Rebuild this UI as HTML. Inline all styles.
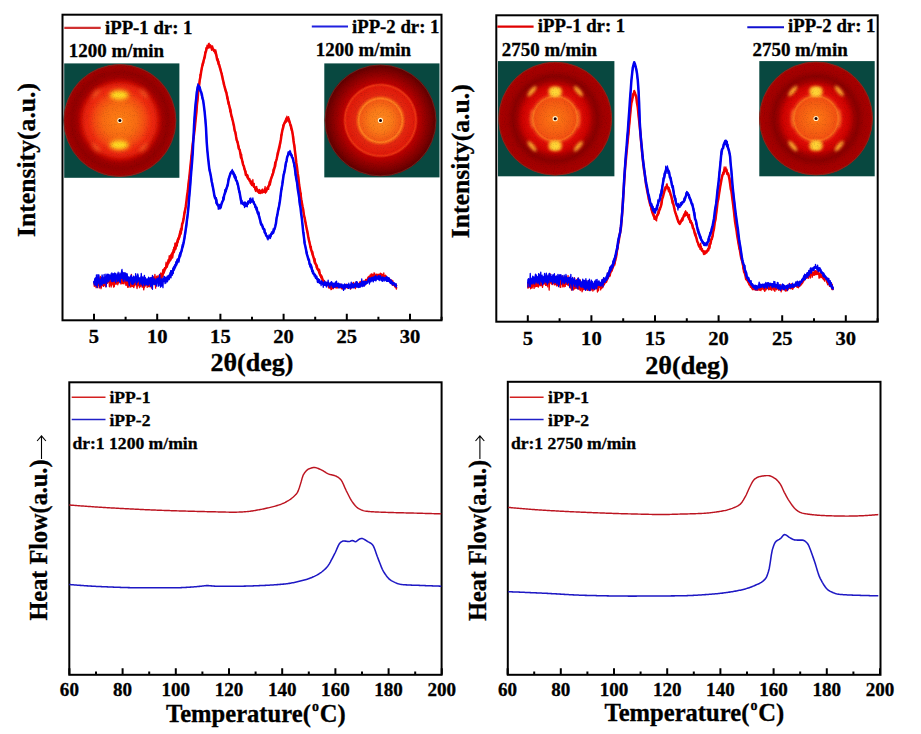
<!DOCTYPE html>
<html><head><meta charset="utf-8"><style>
html,body{margin:0;padding:0;background:#fff;}
body{width:921px;height:734px;overflow:hidden;}
svg{display:block;font-family:"Liberation Serif", serif;font-weight:bold;} text{stroke:#000;stroke-width:0.3px;}
</style></head><body>
<svg width="921" height="734" viewBox="0 0 921 734">
<defs>
<radialGradient id="rg_a" cx="0.5" cy="0.5" r="0.5">
 <stop offset="0" stop-color="#ff8214"/><stop offset="0.3" stop-color="#f86a12"/><stop offset="0.45" stop-color="#f44a12"/><stop offset="0.53" stop-color="#f03010"/>
 <stop offset="0.6" stop-color="#e41408"/><stop offset="0.68" stop-color="#c80600"/><stop offset="0.76" stop-color="#a00000"/><stop offset="0.85" stop-color="#920000"/>
 <stop offset="0.95" stop-color="#a00000"/><stop offset="1" stop-color="#900a06"/>
</radialGradient>
<radialGradient id="rg_b" cx="0.5" cy="0.5" r="0.5">
 <stop offset="0" stop-color="#ff8a20"/><stop offset="0.2" stop-color="#fa7a18"/><stop offset="0.36" stop-color="#f45a14"/><stop offset="0.39" stop-color="#ff8020"/><stop offset="0.42" stop-color="#f04e12"/>
 <stop offset="0.45" stop-color="#e42810"/><stop offset="0.6" stop-color="#e01a0a"/><stop offset="0.635" stop-color="#ec3412"/><stop offset="0.67" stop-color="#bc0000"/>
 <stop offset="0.8" stop-color="#960000"/><stop offset="0.9" stop-color="#7a0000"/><stop offset="1" stop-color="#5a0000"/>
</radialGradient>
<radialGradient id="rg_c" cx="0.5" cy="0.5" r="0.5">
 <stop offset="0" stop-color="#ff7a14"/><stop offset="0.3" stop-color="#f45a12"/><stop offset="0.36" stop-color="#f45012"/><stop offset="0.39" stop-color="#f86a1a"/><stop offset="0.42" stop-color="#ea3010"/>
 <stop offset="0.46" stop-color="#e00c06"/><stop offset="0.58" stop-color="#cc0200"/><stop offset="0.67" stop-color="#9c0000"/><stop offset="0.74" stop-color="#8a0000"/>
 <stop offset="0.84" stop-color="#a00000"/><stop offset="0.95" stop-color="#a80000"/><stop offset="1" stop-color="#a00a00"/>
</radialGradient>
<radialGradient id="rg_d" cx="0.5" cy="0.5" r="0.5">
 <stop offset="0" stop-color="#ff7a14"/><stop offset="0.3" stop-color="#f45a12"/><stop offset="0.36" stop-color="#f45012"/><stop offset="0.39" stop-color="#f86a1a"/><stop offset="0.42" stop-color="#ea3010"/>
 <stop offset="0.46" stop-color="#e00c06"/><stop offset="0.58" stop-color="#cc0200"/><stop offset="0.67" stop-color="#9c0000"/><stop offset="0.74" stop-color="#8a0000"/>
 <stop offset="0.84" stop-color="#a00000"/><stop offset="0.95" stop-color="#a80000"/><stop offset="1" stop-color="#a00a00"/>
</radialGradient>
<filter id="speckle" x="0" y="0" width="100%" height="100%"><feTurbulence type="fractalNoise" baseFrequency="0.9" numOctaves="2" seed="7"/><feColorMatrix type="matrix" values="0 0 0 0 0  0 0 0 0 0  0 0 0 0 0  0 0 0 -2.2 1.1"/></filter>
<filter id="blur1" x="-50%" y="-50%" width="200%" height="200%"><feGaussianBlur stdDeviation="1.5"/></filter>
<filter id="blur2" x="-50%" y="-50%" width="200%" height="200%"><feGaussianBlur stdDeviation="2.2"/></filter>
<clipPath id="clip1"><circle cx="119.9" cy="120.5" r="56.5"/></clipPath><clipPath id="clip2"><circle cx="380.5" cy="120.4" r="56.0"/></clipPath><clipPath id="clip3"><circle cx="555.2" cy="118.7" r="57"/></clipPath><clipPath id="clip4"><circle cx="816.0" cy="118.5" r="57"/></clipPath>
</defs>
<g id="tl">
<rect x="64.2" y="63.4" width="115.2" height="114.4" fill="#084840"/>
<g clip-path="url(#clip1)">
<circle cx="119.9" cy="120.5" r="56.5" fill="url(#rg_a)"/>
<g filter="url(#blur2)">
<circle cx="119.9" cy="120.5" r="35" fill="none" stroke="#ff5a20" stroke-width="3" opacity="0.5"/>
<ellipse cx="95.9" cy="93.5" rx="6" ry="2.2" transform="rotate(-50 95.9 93.5)" fill="#ff8030" opacity="0.6"/>
<ellipse cx="95.9" cy="147.5" rx="6" ry="2.2" transform="rotate(50 95.9 147.5)" fill="#ff8030" opacity="0.6"/>
<ellipse cx="143.9" cy="93.5" rx="6" ry="2.2" transform="rotate(50 143.9 93.5)" fill="#ff8030" opacity="0.6"/>
<ellipse cx="143.9" cy="147.5" rx="6" ry="2.2" transform="rotate(-50 143.9 147.5)" fill="#ff8030" opacity="0.6"/>
<ellipse cx="119.2" cy="95.0" rx="9.5" ry="4.5" fill="#ffe020"/>
<ellipse cx="119.2" cy="145.0" rx="9.5" ry="4.5" fill="#ffe020"/>
</g>
<rect x="63.400000000000006" y="64.0" width="113.0" height="113.0" filter="url(#speckle)" opacity="0.14"/>
</g>
<circle cx="119.9" cy="120.5" r="56.0" fill="none" stroke="#7a3a30" stroke-width="1" opacity="0.6"/>
<circle cx="119.9" cy="120.5" r="2.6" fill="#fff6d0"/>
<circle cx="119.9" cy="120.5" r="1.5" fill="#200000"/>
<rect x="324.3" y="63.4" width="115.2" height="114.0" fill="#084840"/>
<g clip-path="url(#clip2)">
<circle cx="380.5" cy="120.4" r="56.0" fill="url(#rg_b)"/>
<rect x="324.5" y="64.4" width="112.0" height="112.0" filter="url(#speckle)" opacity="0.14"/>
</g>
<circle cx="380.5" cy="120.4" r="55.5" fill="none" stroke="#7a3a30" stroke-width="1" opacity="0.6"/>
<circle cx="380.5" cy="120.4" r="2.6" fill="#fff6d0"/>
<circle cx="380.5" cy="120.4" r="1.5" fill="#200000"/>
<rect x="62.5" y="14.7" width="379.0" height="305.6" fill="none" stroke="#000" stroke-width="2"/>
<path d="M94.00,320.3 V313.8 M125.60,320.3 V316.8 M157.20,320.3 V313.8 M188.80,320.3 V316.8 M220.40,320.3 V313.8 M252.00,320.3 V316.8 M283.60,320.3 V313.8 M315.20,320.3 V316.8 M346.80,320.3 V313.8 M378.40,320.3 V316.8 M410.00,320.3 V313.8 M441.60,320.3 V316.8" stroke="#000" stroke-width="2" fill="none"/>
<text x="94.00" y="343.0" font-size="19.6" text-anchor="middle"  transform="matrix(1.05,0,0,1,-4.700,0)">5</text>
<text x="157.20" y="343.0" font-size="19.6" text-anchor="middle"  transform="matrix(1.05,0,0,1,-7.860,0)">10</text>
<text x="220.40" y="343.0" font-size="19.6" text-anchor="middle"  transform="matrix(1.05,0,0,1,-11.020,0)">15</text>
<text x="283.60" y="343.0" font-size="19.6" text-anchor="middle"  transform="matrix(1.05,0,0,1,-14.180,0)">20</text>
<text x="346.80" y="343.0" font-size="19.6" text-anchor="middle"  transform="matrix(1.05,0,0,1,-17.340,0)">25</text>
<text x="410.00" y="343.0" font-size="19.6" text-anchor="middle"  transform="matrix(1.05,0,0,1,-20.500,0)">30</text>
</g>
<g id="tr">
<rect x="498.0" y="61.1" width="116.4" height="115.2" fill="#084840"/>
<g clip-path="url(#clip3)">
<circle cx="555.2" cy="118.7" r="57" fill="url(#rg_c)"/>
<g filter="url(#blur1)">
<path d="M532.7,109.7 Q529.7,118.7 532.7,127.7 M577.7,109.7 Q580.7,118.7 577.7,127.7" fill="none" stroke="#ff9a30" stroke-width="2" opacity="0.7"/>
<ellipse cx="555.2" cy="91.7" rx="7" ry="5.5" fill="#ffa020"/>
<ellipse cx="555.2" cy="88.5" rx="6" ry="1.1" fill="#fff040"/>
<ellipse cx="555.2" cy="91.7" rx="6" ry="1.1" fill="#fff040"/>
<ellipse cx="555.2" cy="94.9" rx="6" ry="1.1" fill="#fff040"/>
<ellipse cx="555.2" cy="145.7" rx="7" ry="5.5" fill="#ffa020"/>
<ellipse cx="555.2" cy="142.5" rx="6" ry="1.1" fill="#fff040"/>
<ellipse cx="555.2" cy="145.7" rx="6" ry="1.1" fill="#fff040"/>
<ellipse cx="555.2" cy="148.89999999999998" rx="6" ry="1.1" fill="#fff040"/>
<ellipse cx="532.0" cy="91.2" rx="6.5" ry="2.2" transform="rotate(-50 532.0 91.2)" fill="#ffb030" opacity="0.95"/>
<ellipse cx="532.0" cy="146.2" rx="6.5" ry="2.2" transform="rotate(50 532.0 146.2)" fill="#ffb030" opacity="0.95"/>
<ellipse cx="578.4000000000001" cy="91.2" rx="6.5" ry="2.2" transform="rotate(50 578.4000000000001 91.2)" fill="#ffb030" opacity="0.95"/>
<ellipse cx="578.4000000000001" cy="146.2" rx="6.5" ry="2.2" transform="rotate(-50 578.4000000000001 146.2)" fill="#ffb030" opacity="0.95"/>
</g>
<rect x="498.20000000000005" y="61.7" width="114" height="114" filter="url(#speckle)" opacity="0.14"/>
</g>
<circle cx="555.2" cy="118.7" r="56.5" fill="none" stroke="#7a3a30" stroke-width="1" opacity="0.6"/>
<circle cx="555.2" cy="118.7" r="2.6" fill="#fff6d0"/>
<circle cx="555.2" cy="118.7" r="1.5" fill="#200000"/>
<rect x="759.3" y="61.1" width="115.4" height="115.2" fill="#084840"/>
<g clip-path="url(#clip4)">
<circle cx="816.0" cy="118.5" r="57" fill="url(#rg_d)"/>
<g filter="url(#blur1)">
<path d="M793.5,109.5 Q790.5,118.5 793.5,127.5 M838.5,109.5 Q841.5,118.5 838.5,127.5" fill="none" stroke="#ff9a30" stroke-width="2" opacity="0.7"/>
<ellipse cx="816.0" cy="91.5" rx="7" ry="5.5" fill="#ffa020"/>
<ellipse cx="816.0" cy="88.3" rx="6" ry="1.1" fill="#fff040"/>
<ellipse cx="816.0" cy="91.5" rx="6" ry="1.1" fill="#fff040"/>
<ellipse cx="816.0" cy="94.7" rx="6" ry="1.1" fill="#fff040"/>
<ellipse cx="816.0" cy="145.5" rx="7" ry="5.5" fill="#ffa020"/>
<ellipse cx="816.0" cy="142.3" rx="6" ry="1.1" fill="#fff040"/>
<ellipse cx="816.0" cy="145.5" rx="6" ry="1.1" fill="#fff040"/>
<ellipse cx="816.0" cy="148.7" rx="6" ry="1.1" fill="#fff040"/>
<ellipse cx="792.8" cy="91.0" rx="6.5" ry="2.2" transform="rotate(-50 792.8 91.0)" fill="#ffb030" opacity="0.95"/>
<ellipse cx="792.8" cy="146.0" rx="6.5" ry="2.2" transform="rotate(50 792.8 146.0)" fill="#ffb030" opacity="0.95"/>
<ellipse cx="839.2" cy="91.0" rx="6.5" ry="2.2" transform="rotate(50 839.2 91.0)" fill="#ffb030" opacity="0.95"/>
<ellipse cx="839.2" cy="146.0" rx="6.5" ry="2.2" transform="rotate(-50 839.2 146.0)" fill="#ffb030" opacity="0.95"/>
</g>
<rect x="759.0" y="61.5" width="114" height="114" filter="url(#speckle)" opacity="0.14"/>
</g>
<circle cx="816.0" cy="118.5" r="56.5" fill="none" stroke="#7a3a30" stroke-width="1" opacity="0.6"/>
<circle cx="816.0" cy="118.5" r="2.6" fill="#fff6d0"/>
<circle cx="816.0" cy="118.5" r="1.5" fill="#200000"/>
<rect x="496.3" y="15.3" width="381.40000000000003" height="306.4" fill="none" stroke="#000" stroke-width="2"/>
<path d="M527.80,321.7 V315.2 M559.60,321.7 V318.2 M591.40,321.7 V315.2 M623.20,321.7 V318.2 M655.00,321.7 V315.2 M686.80,321.7 V318.2 M718.60,321.7 V315.2 M750.40,321.7 V318.2 M782.20,321.7 V315.2 M814.00,321.7 V318.2 M845.80,321.7 V315.2 M877.60,321.7 V318.2" stroke="#000" stroke-width="2" fill="none"/>
<text x="527.80" y="344.8" font-size="19.6" text-anchor="middle"  transform="matrix(1.05,0,0,1,-26.390,0)">5</text>
<text x="591.40" y="344.8" font-size="19.6" text-anchor="middle"  transform="matrix(1.05,0,0,1,-29.570,0)">10</text>
<text x="655.00" y="344.8" font-size="19.6" text-anchor="middle"  transform="matrix(1.05,0,0,1,-32.750,0)">15</text>
<text x="718.60" y="344.8" font-size="19.6" text-anchor="middle"  transform="matrix(1.05,0,0,1,-35.930,0)">20</text>
<text x="782.20" y="344.8" font-size="19.6" text-anchor="middle"  transform="matrix(1.05,0,0,1,-39.110,0)">25</text>
<text x="845.80" y="344.8" font-size="19.6" text-anchor="middle"  transform="matrix(1.05,0,0,1,-42.290,0)">30</text>
</g>
<path d="M94.00,283.78 L94.70,283.30 L95.40,283.87 L96.10,283.21 L96.80,283.66 L97.50,285.14 L98.20,283.62 L98.90,283.73 L99.60,282.52 L100.30,282.31 L101.00,283.36 L101.70,281.99 L102.40,281.87 L103.10,282.66 L103.80,281.88 L104.50,282.49 L105.20,281.27 L105.90,282.37 L106.60,280.02 L107.30,280.83 L108.00,280.38 L108.70,281.32 L109.40,280.03 L110.10,281.69 L110.80,280.20 L111.50,281.47 L112.20,280.67 L112.90,281.33 L113.60,281.31 L114.30,280.00 L115.00,280.43 L115.70,280.78 L116.40,280.30 L117.10,281.03 L117.80,280.99 L118.50,279.84 L119.20,278.74 L119.90,279.98 L120.60,280.97 L121.30,279.85 L122.00,279.83 L122.70,280.00 L123.40,280.79 L124.10,281.52 L124.80,279.37 L125.50,281.39 L126.20,280.68 L126.90,280.21 L127.60,282.12 L128.30,281.42 L129.00,281.38 L129.70,281.89 L130.40,281.41 L131.10,282.68 L131.80,281.96 L132.50,283.97 L133.20,283.19 L133.90,282.69 L134.60,283.04 L135.30,282.60 L136.00,283.90 L136.70,284.09 L137.40,282.46 L138.10,283.98 L138.80,284.44 L139.50,284.64 L140.20,283.74 L140.90,283.57 L141.60,283.98 L142.30,284.48 L143.00,284.23 L143.70,284.03 L144.40,283.62 L145.10,283.14 L145.80,282.60 L146.50,283.84 L147.20,283.13 L147.90,283.54 L148.60,285.05 L149.30,282.16 L150.00,283.92 L150.70,282.24 L151.40,282.45 L152.10,281.96 L152.80,282.15 L153.50,282.16 L154.20,281.70 L154.90,282.37 L155.60,280.45 L156.30,281.12 L157.00,279.75 L157.70,279.01 L158.40,279.12 L159.10,277.56 L159.80,278.85 L160.50,278.30 L161.20,276.14 L161.90,274.33 L162.60,274.45 L163.30,272.73 L164.00,271.68 L164.70,269.12 L165.40,268.39 L166.10,267.19 L166.80,266.86 L167.50,263.43 L168.20,263.22 L168.90,260.89 L169.60,259.94 L170.30,259.55 L171.00,255.94 L171.70,254.44 L172.40,253.84 L173.10,252.15 L173.80,252.17 L174.50,248.47 L175.20,248.84 L175.90,245.71 L176.60,244.70 L177.30,241.90 L178.00,239.36 L178.70,238.32 L179.40,237.04 L180.10,233.76 L180.80,231.04 L181.50,229.61 L182.20,223.76 L182.90,222.29 L183.60,219.06 L184.30,214.18 L185.00,210.52 L185.70,207.02 L186.40,201.67 L187.10,195.51 L187.80,191.03 L188.50,183.77 L189.20,178.47 L189.90,171.71 L190.60,164.71 L191.30,158.21 L192.00,151.23 L192.70,144.10 L193.40,139.08 L194.10,133.83 L194.80,128.22 L195.50,120.48 L196.20,114.17 L196.90,105.08 L197.60,99.28 L198.30,90.10 L199.00,86.36 L199.70,80.34 L200.40,76.90 L201.10,72.09 L201.80,67.98 L202.50,65.23 L203.20,62.67 L203.90,59.55 L204.60,57.85 L205.30,53.37 L206.00,51.20 L206.70,48.44 L207.40,47.44 L208.10,46.93 L208.80,47.10 L209.50,46.17 L210.20,45.34 L210.90,46.45 L211.60,47.41 L212.30,48.06 L213.00,49.22 L213.70,50.19 L214.40,50.02 L215.10,51.26 L215.80,52.86 L216.50,56.31 L217.20,59.86 L217.90,61.05 L218.60,64.29 L219.30,64.95 L220.00,67.88 L220.70,70.71 L221.40,73.00 L222.10,76.08 L222.80,79.44 L223.50,82.01 L224.20,85.31 L224.90,87.84 L225.60,90.76 L226.30,92.59 L227.00,95.89 L227.70,98.94 L228.40,102.90 L229.10,104.86 L229.80,107.73 L230.50,110.62 L231.20,114.89 L231.90,117.18 L232.60,119.95 L233.30,122.99 L234.00,126.21 L234.70,130.74 L235.40,132.25 L236.10,136.67 L236.80,140.21 L237.50,141.68 L238.20,145.34 L238.90,148.78 L239.60,149.50 L240.30,152.97 L241.00,157.67 L241.70,158.57 L242.40,161.49 L243.10,164.72 L243.80,166.13 L244.50,168.98 L245.20,171.27 L245.90,175.05 L246.60,175.22 L247.30,175.22 L248.00,178.33 L248.70,178.65 L249.40,179.95 L250.10,180.92 L250.80,181.44 L251.50,183.48 L252.20,182.77 L252.90,184.91 L253.60,186.05 L254.30,187.03 L255.00,187.58 L255.70,189.21 L256.40,190.01 L257.10,190.26 L257.80,191.54 L258.50,190.80 L259.20,192.52 L259.90,192.71 L260.60,191.22 L261.30,191.90 L262.00,192.40 L262.70,190.51 L263.40,191.09 L264.10,191.41 L264.80,191.50 L265.50,191.85 L266.20,190.85 L266.90,188.80 L267.60,187.80 L268.30,186.52 L269.00,185.56 L269.70,183.67 L270.40,180.85 L271.10,178.51 L271.80,176.86 L272.50,174.87 L273.20,172.90 L273.90,169.05 L274.60,167.48 L275.30,163.03 L276.00,161.05 L276.70,158.75 L277.40,155.41 L278.10,152.02 L278.80,149.17 L279.50,146.12 L280.20,142.80 L280.90,139.28 L281.60,134.15 L282.30,130.64 L283.00,128.22 L283.70,125.16 L284.40,123.15 L285.10,121.76 L285.80,120.62 L286.50,118.39 L287.20,119.08 L287.90,117.92 L288.60,118.83 L289.30,121.05 L290.00,123.37 L290.70,125.12 L291.40,128.12 L292.10,130.89 L292.80,134.95 L293.50,140.94 L294.20,144.98 L294.90,150.67 L295.60,155.87 L296.30,162.68 L297.00,167.16 L297.70,173.19 L298.40,177.37 L299.10,184.53 L299.80,188.78 L300.50,193.77 L301.20,199.45 L301.90,202.92 L302.60,206.71 L303.30,210.04 L304.00,215.57 L304.70,218.11 L305.40,221.97 L306.10,225.85 L306.80,229.15 L307.50,232.13 L308.20,236.67 L308.90,239.93 L309.60,243.02 L310.30,246.08 L311.00,249.31 L311.70,251.46 L312.40,253.56 L313.10,256.00 L313.80,258.14 L314.50,260.88 L315.20,262.89 L315.90,264.59 L316.60,265.18 L317.30,268.54 L318.00,269.39 L318.70,270.60 L319.40,273.06 L320.10,274.77 L320.80,275.93 L321.50,276.89 L322.20,278.31 L322.90,280.41 L323.60,281.10 L324.30,281.77 L325.00,283.23 L325.70,283.95 L326.40,284.20 L327.10,284.10 L327.80,284.95 L328.50,284.99 L329.20,285.56 L329.90,286.85 L330.60,285.86 L331.30,286.11 L332.00,286.95 L332.70,286.98 L333.40,285.19 L334.10,285.07 L334.80,286.44 L335.50,287.13 L336.20,286.36 L336.90,287.38 L337.60,286.32 L338.30,287.04 L339.00,286.47 L339.70,286.39 L340.40,284.81 L341.10,286.42 L341.80,286.89 L342.50,287.54 L343.20,287.44 L343.90,286.54 L344.60,287.14 L345.30,286.97 L346.00,285.18 L346.70,286.60 L347.40,287.40 L348.10,287.74 L348.80,286.05 L349.50,286.21 L350.20,286.89 L350.90,287.12 L351.60,286.93 L352.30,287.00 L353.00,286.53 L353.70,285.80 L354.40,285.27 L355.10,285.08 L355.80,285.77 L356.50,284.79 L357.20,284.85 L357.90,284.14 L358.60,284.66 L359.30,283.97 L360.00,285.02 L360.70,283.04 L361.40,283.32 L362.10,283.65 L362.80,284.84 L363.50,282.12 L364.20,281.54 L364.90,281.88 L365.60,281.20 L366.30,280.48 L367.00,279.83 L367.70,279.93 L368.40,277.62 L369.10,277.25 L369.80,277.14 L370.50,277.41 L371.20,277.92 L371.90,276.55 L372.60,276.04 L373.30,277.38 L374.00,275.22 L374.70,275.63 L375.40,276.98 L376.10,275.68 L376.80,274.79 L377.50,275.93 L378.20,275.75 L378.90,276.78 L379.60,275.12 L380.30,275.76 L381.00,276.19 L381.70,274.66 L382.40,276.30 L383.10,276.01 L383.80,277.67 L384.50,276.39 L385.20,277.84 L385.90,278.60 L386.60,279.37 L387.30,279.85 L388.00,278.90 L388.70,280.36 L389.40,280.37 L390.10,280.77 L390.80,281.09 L391.50,281.66 L392.20,283.39 L392.90,283.33 L393.60,284.77 L394.30,284.33 L395.00,285.73 L395.70,284.88 L396.40,286.58" stroke="#f00000" stroke-width="2.5" fill="none" stroke-linejoin="round"/>
<path d="M94.00,281.66 L94.35,284.10 L94.70,282.59 L95.05,282.02 L95.40,280.52 L95.75,284.14 L96.10,279.98 L96.45,277.63 L96.80,285.38 L97.15,284.51 L97.50,280.78 L97.85,285.35 L98.20,282.06 L98.55,281.93 L98.90,281.29 L99.25,288.01 L99.60,286.06 L99.95,283.53 L100.30,285.63 L100.65,283.18 L101.00,288.67 L101.35,279.24 L101.70,284.02 L102.05,282.31 L102.40,281.78 L102.75,282.73 L103.10,284.00 L103.45,283.57 L103.80,285.61 L104.15,279.66 L104.50,282.87 L104.85,281.00 L105.20,279.32 L105.55,286.73 L105.90,278.57 L106.25,278.89 L106.60,280.85 L106.95,279.57 L107.30,282.62 L107.65,277.47 L108.00,277.50 L108.35,281.33 L108.70,281.00 L109.05,281.43 L109.40,286.81 L109.75,280.98 L110.10,276.06 L110.45,276.36 L110.80,277.71 L111.15,287.00 L111.50,284.24 L111.85,279.97 L112.20,281.49 L112.55,279.68 L112.90,284.86 L113.25,281.93 L113.60,283.25 L113.95,279.17 L114.30,276.33 L114.65,278.02 L115.00,274.16 L115.35,283.86 L115.70,279.82 L116.05,277.84 L116.40,282.75 L116.75,275.89 L117.10,278.95 L117.45,279.13 L117.80,284.82 L118.15,273.50 L118.50,283.15 L118.85,276.13 L119.20,276.85 L119.55,275.03 L119.90,274.55 L120.25,279.89 L120.60,280.11 L120.95,283.98 L121.30,275.26 L121.65,274.93 L122.00,276.71 L122.35,283.68 L122.70,282.70 L123.05,277.65 L123.40,281.39 L123.75,280.69 L124.10,283.83 L124.45,275.32 L124.80,277.40 L125.15,279.71 L125.50,276.37 L125.85,285.30 L126.20,283.18 L126.55,280.70 L126.90,285.05 L127.25,284.24 L127.60,285.21 L127.95,287.07 L128.30,280.09 L128.65,280.52 L129.00,278.28 L129.35,283.19 L129.70,282.91 L130.05,285.26 L130.40,284.88 L130.75,280.99 L131.10,283.42 L131.45,281.23 L131.80,286.10 L132.15,281.28 L132.50,281.50 L132.85,281.28 L133.20,281.67 L133.55,286.72 L133.90,282.76 L134.25,282.57 L134.60,282.71 L134.95,280.93 L135.30,281.57 L135.65,281.25 L136.00,278.16 L136.35,278.80 L136.70,280.75 L137.05,288.57 L137.40,282.12 L137.75,285.40 L138.10,284.64 L138.45,280.76 L138.80,283.38 L139.15,280.77 L139.50,287.65 L139.85,280.22 L140.20,281.58 L140.55,284.82 L140.90,285.29 L141.25,284.01 L141.60,283.81 L141.95,281.79 L142.30,287.15 L142.65,286.10 L143.00,277.52 L143.35,278.89 L143.70,279.15 L144.05,285.65 L144.40,284.48 L144.75,286.81 L145.10,285.50 L145.45,279.74 L145.80,284.41 L146.15,281.83 L146.50,280.77 L146.85,282.49 L147.20,287.40 L147.55,281.22 L147.90,284.40 L148.25,282.37 L148.60,280.53 L148.95,285.08 L149.30,282.97 L149.65,284.67 L150.00,282.02 L150.35,285.42 L150.70,278.88 L151.05,277.44 L151.40,288.07 L151.75,284.11 L152.10,280.33 L152.45,283.02 L152.80,276.61 L153.15,282.88 L153.50,277.26 L153.85,277.24 L154.20,280.16 L154.55,283.87 L154.90,284.64 L155.25,281.74 L155.60,288.10 L155.95,280.76 L156.30,276.33 L156.65,281.77 L157.00,281.15 L157.35,281.62 L157.70,280.41 L158.05,275.56 L158.40,279.95 L158.75,282.73 L159.10,283.18 L159.45,281.35 L159.80,279.37 L160.15,275.11 L160.50,275.66 L160.85,272.87 L161.20,277.74 L161.55,279.16 L161.90,274.31 L162.25,277.32 L162.60,273.90 L162.95,276.43 L163.30,269.34 L163.65,273.59 L164.00,271.06 L164.35,268.23 L164.70,270.47 L165.05,267.73 L165.40,268.13 L165.75,269.09 L166.10,262.11 L166.45,267.11 L166.80,264.43 L167.15,265.78 L167.50,263.64 L167.85,261.05 L168.20,262.78 L168.55,263.72 L168.90,258.75 L169.25,255.58 L169.60,259.51 L169.95,256.86 L170.30,260.42 L170.65,255.82 L171.00,259.92 L171.35,256.93 L171.70,254.16 L172.05,255.62 L172.40,252.56 L172.75,257.65 L173.10,251.27 L173.45,250.57 L173.80,248.89 L174.15,251.18 L174.50,250.79 L174.85,249.55 L175.20,245.97 L175.55,246.94 L175.90,249.08 L176.25,243.17 L176.60,244.43 L176.95,243.56 L177.30,242.51 L177.65,238.57 L178.00,238.18 L178.35,237.66 L178.70,236.16 L179.05,238.69 L179.40,236.71 L179.75,232.38 L180.10,231.09 L180.45,234.63 L180.80,234.51 L181.15,233.68 L181.50,227.43 L181.85,228.27 L182.20,227.79 L182.55,223.93 L182.90,223.21 L183.25,219.75 L183.60,218.08 L183.95,217.50 L184.30,211.85 L184.65,213.20 L185.00,211.62 L185.35,210.87 L185.70,204.97 L186.05,202.08 L186.40,204.33 L186.75,200.95 L187.10,197.80 L187.45,193.61 L187.80,191.96 L188.15,187.90 L188.50,184.12 L188.85,180.21 L189.20,177.55 L189.55,175.05 L189.90,172.23 L190.25,168.08 L190.60,164.33 L190.95,162.02 L191.30,155.58 L191.65,154.47 L192.00,150.57 L192.35,150.28 L192.70,141.89 L193.05,141.33 L193.40,138.34 L193.75,138.51 L194.10,134.01 L194.45,131.48 L194.80,126.63 L195.15,124.85 L195.50,121.80 L195.85,115.42 L196.20,115.91 L196.55,112.01 L196.90,107.26 L197.25,104.14 L197.60,98.88 L197.95,94.75 L198.30,91.24 L198.65,88.03 L199.00,83.98 L199.35,84.34 L199.70,80.32 L200.05,74.39 L200.40,75.98 L200.75,73.58 L201.10,71.43 L201.45,70.17 L201.80,69.19 L202.15,64.89 L202.50,62.67 L202.85,65.45 L203.20,60.87 L203.55,63.20 L203.90,57.16 L204.25,58.64 L204.60,54.22 L204.95,51.82 L205.30,54.32 L205.65,51.78 L206.00,47.76 L206.35,48.08 L206.70,47.91 L207.05,45.18 L207.40,47.35 L207.75,47.66 L208.10,46.99 L208.45,43.59 L208.80,48.17 L209.15,43.10 L209.50,47.61 L209.85,45.94 L210.20,46.33 L210.55,45.27 L210.90,48.00 L211.25,49.09 L211.60,50.30 L211.95,49.39 L212.30,45.85 L212.65,46.12 L213.00,47.82 L213.35,48.28 L213.70,51.49 L214.05,51.04 L214.40,52.13 L214.75,52.01 L215.10,53.71 L215.45,51.58 L215.80,49.82 L216.15,54.41 L216.50,54.28 L216.85,58.15 L217.20,57.65 L217.55,59.49 L217.90,61.16 L218.25,58.91 L218.60,63.93 L218.95,61.18 L219.30,67.06 L219.65,67.56 L220.00,68.39 L220.35,68.48 L220.70,68.73 L221.05,71.19 L221.40,72.22 L221.75,73.03 L222.10,73.57 L222.45,75.47 L222.80,79.40 L223.15,78.74 L223.50,84.65 L223.85,82.53 L224.20,84.31 L224.55,85.85 L224.90,87.59 L225.25,87.95 L225.60,88.89 L225.95,92.05 L226.30,90.68 L226.65,92.04 L227.00,98.77 L227.35,95.39 L227.70,97.04 L228.05,100.25 L228.40,104.74 L228.75,102.35 L229.10,102.04 L229.45,108.29 L229.80,111.57 L230.15,111.95 L230.50,108.91 L230.85,111.16 L231.20,115.96 L231.55,117.71 L231.90,119.32 L232.25,119.17 L232.60,121.00 L232.95,121.07 L233.30,124.26 L233.65,125.92 L234.00,127.59 L234.35,129.37 L234.70,130.04 L235.05,131.63 L235.40,133.97 L235.75,134.31 L236.10,135.58 L236.45,140.20 L236.80,142.06 L237.15,141.91 L237.50,141.17 L237.85,145.26 L238.20,145.69 L238.55,149.04 L238.90,145.90 L239.25,149.40 L239.60,149.54 L239.95,153.73 L240.30,153.93 L240.65,152.51 L241.00,156.09 L241.35,157.10 L241.70,154.41 L242.05,160.39 L242.40,161.64 L242.75,164.56 L243.10,161.85 L243.45,165.69 L243.80,166.31 L244.15,169.29 L244.50,168.61 L244.85,170.19 L245.20,170.00 L245.55,171.30 L245.90,170.93 L246.25,175.69 L246.60,173.58 L246.95,177.56 L247.30,174.86 L247.65,175.37 L248.00,179.20 L248.35,179.13 L248.70,179.43 L249.05,179.51 L249.40,181.27 L249.75,178.57 L250.10,182.91 L250.45,183.79 L250.80,180.65 L251.15,183.27 L251.50,185.52 L251.85,182.42 L252.20,184.11 L252.55,181.87 L252.90,179.52 L253.25,185.77 L253.60,186.62 L253.95,187.45 L254.30,183.40 L254.65,188.76 L255.00,189.85 L255.35,190.86 L255.70,191.54 L256.05,186.88 L256.40,188.04 L256.75,186.44 L257.10,190.52 L257.45,188.73 L257.80,190.17 L258.15,189.81 L258.50,193.05 L258.85,190.68 L259.20,191.37 L259.55,189.44 L259.90,192.96 L260.25,193.61 L260.60,190.28 L260.95,192.88 L261.30,190.10 L261.65,191.33 L262.00,189.69 L262.35,188.98 L262.70,191.64 L263.05,192.57 L263.40,190.55 L263.75,190.07 L264.10,192.51 L264.45,188.58 L264.80,188.00 L265.15,186.51 L265.50,193.16 L265.85,189.47 L266.20,190.95 L266.55,191.89 L266.90,188.68 L267.25,189.68 L267.60,188.87 L267.95,188.98 L268.30,189.13 L268.65,189.37 L269.00,183.64 L269.35,181.29 L269.70,181.80 L270.05,182.88 L270.40,184.90 L270.75,181.57 L271.10,179.29 L271.45,179.46 L271.80,176.62 L272.15,173.89 L272.50,175.88 L272.85,174.53 L273.20,169.63 L273.55,172.55 L273.90,169.98 L274.25,167.41 L274.60,170.09 L274.95,162.38 L275.30,165.56 L275.65,166.67 L276.00,161.69 L276.35,160.99 L276.70,159.69 L277.05,158.63 L277.40,152.57 L277.75,154.85 L278.10,151.86 L278.45,153.88 L278.80,148.37 L279.15,149.26 L279.50,149.67 L279.85,146.81 L280.20,144.65 L280.55,144.17 L280.90,134.98 L281.25,136.05 L281.60,135.32 L281.95,134.90 L282.30,130.81 L282.65,126.79 L283.00,124.79 L283.35,126.20 L283.70,123.99 L284.05,123.37 L284.40,123.46 L284.75,122.30 L285.10,123.40 L285.45,119.96 L285.80,119.94 L286.15,118.78 L286.50,122.09 L286.85,116.27 L287.20,118.11 L287.55,120.99 L287.90,118.45 L288.25,120.50 L288.60,116.58 L288.95,122.05 L289.30,119.53 L289.65,121.74 L290.00,125.32 L290.35,125.39 L290.70,128.35 L291.05,127.43 L291.40,130.49 L291.75,131.18 L292.10,129.41 L292.45,131.66 L292.80,136.48 L293.15,134.91 L293.50,136.44 L293.85,141.58 L294.20,141.58 L294.55,145.29 L294.90,150.37 L295.25,155.58 L295.60,157.12 L295.95,162.74 L296.30,164.72 L296.65,166.53 L297.00,166.70 L297.35,172.73 L297.70,174.67 L298.05,176.92 L298.40,178.63 L298.75,183.99 L299.10,184.84 L299.45,187.23 L299.80,189.35 L300.15,189.00 L300.50,196.07 L300.85,196.52 L301.20,193.15 L301.55,200.87 L301.90,200.83 L302.25,204.89 L302.60,207.37 L302.95,207.59 L303.30,211.34 L303.65,213.65 L304.00,216.04 L304.35,216.47 L304.70,217.17 L305.05,219.19 L305.40,221.99 L305.75,222.29 L306.10,226.28 L306.45,227.03 L306.80,229.05 L307.15,232.05 L307.50,233.28 L307.85,233.35 L308.20,235.53 L308.55,236.93 L308.90,240.33 L309.25,240.45 L309.60,241.79 L309.95,246.80 L310.30,247.79 L310.65,246.90 L311.00,246.76 L311.35,246.61 L311.70,252.17 L312.05,251.10 L312.40,255.24 L312.75,251.31 L313.10,255.74 L313.45,257.30 L313.80,259.78 L314.15,261.30 L314.50,263.54 L314.85,258.30 L315.20,259.90 L315.55,262.70 L315.90,265.24 L316.25,267.81 L316.60,268.48 L316.95,267.63 L317.30,269.58 L317.65,270.19 L318.00,269.38 L318.35,270.59 L318.70,270.21 L319.05,269.06 L319.40,269.39 L319.75,270.09 L320.10,274.40 L320.45,276.00 L320.80,277.81 L321.15,274.81 L321.50,276.14 L321.85,275.71 L322.20,279.16 L322.55,280.30 L322.90,281.70 L323.25,282.94 L323.60,280.34 L323.95,283.43 L324.30,280.38 L324.65,282.88 L325.00,282.88 L325.35,283.32 L325.70,284.43 L326.05,282.92 L326.40,282.60 L326.75,284.54 L327.10,283.25 L327.45,283.96 L327.80,282.08 L328.15,283.26 L328.50,287.87 L328.85,287.21 L329.20,285.83 L329.55,287.45 L329.90,288.23 L330.25,283.67 L330.60,284.86 L330.95,289.62 L331.30,285.96 L331.65,289.36 L332.00,285.81 L332.35,288.30 L332.70,286.14 L333.05,284.16 L333.40,288.69 L333.75,286.56 L334.10,284.26 L334.45,284.22 L334.80,285.98 L335.15,287.03 L335.50,284.23 L335.85,286.73 L336.20,285.39 L336.55,286.43 L336.90,283.32 L337.25,284.76 L337.60,283.85 L337.95,286.58 L338.30,285.40 L338.65,285.99 L339.00,287.21 L339.35,286.18 L339.70,287.62 L340.05,286.43 L340.40,287.57 L340.75,286.97 L341.10,287.95 L341.45,288.73 L341.80,288.79 L342.15,285.84 L342.50,285.88 L342.85,288.99 L343.20,287.60 L343.55,286.78 L343.90,285.96 L344.25,286.54 L344.60,288.46 L344.95,285.37 L345.30,288.09 L345.65,285.81 L346.00,285.52 L346.35,284.07 L346.70,284.50 L347.05,285.82 L347.40,287.28 L347.75,285.04 L348.10,285.33 L348.45,287.34 L348.80,285.65 L349.15,286.44 L349.50,287.59 L349.85,286.47 L350.20,286.32 L350.55,289.21 L350.90,288.23 L351.25,285.61 L351.60,286.39 L351.95,285.56 L352.30,286.48 L352.65,283.46 L353.00,286.65 L353.35,282.40 L353.70,285.99 L354.05,285.83 L354.40,284.92 L354.75,286.17 L355.10,287.90 L355.45,288.58 L355.80,282.05 L356.15,284.54 L356.50,282.24 L356.85,283.90 L357.20,282.54 L357.55,284.95 L357.90,283.20 L358.25,284.05 L358.60,285.59 L358.95,284.18 L359.30,286.26 L359.65,281.98 L360.00,284.60 L360.35,282.65 L360.70,281.44 L361.05,283.85 L361.40,285.67 L361.75,284.52 L362.10,281.34 L362.45,285.83 L362.80,283.84 L363.15,284.23 L363.50,281.40 L363.85,284.34 L364.20,281.60 L364.55,282.95 L364.90,281.67 L365.25,284.90 L365.60,279.38 L365.95,282.09 L366.30,280.65 L366.65,281.36 L367.00,279.54 L367.35,280.03 L367.70,281.04 L368.05,278.66 L368.40,278.75 L368.75,279.01 L369.10,276.08 L369.45,277.77 L369.80,278.65 L370.15,274.93 L370.50,277.20 L370.85,278.58 L371.20,273.80 L371.55,274.08 L371.90,275.07 L372.25,276.92 L372.60,274.19 L372.95,275.12 L373.30,274.95 L373.65,279.00 L374.00,272.86 L374.35,277.78 L374.70,273.26 L375.05,276.10 L375.40,276.25 L375.75,276.42 L376.10,275.82 L376.45,274.49 L376.80,277.62 L377.15,276.40 L377.50,274.95 L377.85,277.47 L378.20,274.24 L378.55,274.39 L378.90,274.66 L379.25,275.12 L379.60,276.32 L379.95,274.29 L380.30,273.16 L380.65,274.73 L381.00,275.96 L381.35,274.06 L381.70,275.25 L382.05,274.50 L382.40,275.06 L382.75,275.77 L383.10,274.58 L383.45,277.98 L383.80,272.97 L384.15,276.99 L384.50,276.23 L384.85,277.49 L385.20,276.85 L385.55,275.23 L385.90,277.67 L386.25,275.87 L386.60,280.61 L386.95,280.08 L387.30,280.29 L387.65,279.71 L388.00,279.86 L388.35,281.41 L388.70,278.92 L389.05,278.23 L389.40,278.37 L389.75,281.12 L390.10,282.76 L390.45,279.69 L390.80,280.53 L391.15,282.46 L391.50,279.99 L391.85,280.22 L392.20,285.07 L392.55,281.67 L392.90,280.80 L393.25,282.81 L393.60,285.13 L393.95,283.80 L394.30,283.37 L394.65,286.84 L395.00,285.04 L395.35,285.15 L395.70,287.76 L396.05,287.59 L396.40,289.12 L396.75,286.79" stroke="#f00000" stroke-width="1.3" fill="none" stroke-linejoin="round"/>
<path d="M94.00,282.63 L94.35,286.34 L94.70,285.02 L95.05,285.65 L95.40,282.26 L95.75,286.07 L96.10,287.72 L96.45,284.38 L96.80,283.05 L97.15,283.24 L97.50,287.50 L97.85,282.23 L98.20,285.03 L98.55,283.58 L98.90,282.10 L99.25,278.30 L99.60,278.09 L99.95,286.08 L100.30,276.40 L100.65,281.04 L101.00,283.43 L101.35,287.51 L101.70,282.80 L102.05,284.78 L102.40,284.24 L102.75,285.63 L103.10,283.09 L103.45,286.45 L103.80,277.68 L104.15,279.76 L104.50,282.29 L104.85,285.24 L105.20,279.46 L105.55,277.49 L105.90,278.69 L106.25,283.00 L106.60,279.52 L106.95,276.72 L107.30,283.45 L107.65,281.86 L108.00,281.18 L108.35,281.62 L108.70,275.78 L109.05,277.32 L109.40,281.75 L109.75,280.33 L110.10,285.47 L110.45,282.50 L110.80,283.76 L111.15,283.86 L111.50,277.48 L111.85,283.37 L112.20,278.57 L112.55,283.30 L112.90,277.23 L113.25,282.96 L113.60,287.07 L113.95,276.17 L114.30,286.67 L114.65,283.28 L115.00,280.07 L115.35,280.91 L115.70,283.95 L116.05,283.70 L116.40,278.38 L116.75,284.10 L117.10,278.59 L117.45,280.40 L117.80,276.40 L118.15,277.99 L118.50,279.16 L118.85,277.65 L119.20,275.44 L119.55,282.11 L119.90,280.74 L120.25,281.71 L120.60,276.20 L120.95,282.41 L121.30,282.99 L121.65,282.04 L122.00,279.72 L122.35,282.08 L122.70,283.18 L123.05,281.13 L123.40,283.52 L123.75,280.21 L124.10,273.25 L124.45,279.65 L124.80,278.02 L125.15,280.11 L125.50,282.47 L125.85,283.77 L126.20,280.31 L126.55,275.99 L126.90,283.70 L127.25,279.62 L127.60,287.15 L127.95,283.67 L128.30,279.29 L128.65,284.87 L129.00,287.14 L129.35,279.81 L129.70,279.58 L130.05,284.13 L130.40,283.89 L130.75,287.12 L131.10,283.26 L131.45,274.49 L131.80,282.99 L132.15,286.35 L132.50,281.39 L132.85,283.28 L133.20,286.39 L133.55,287.18 L133.90,287.50 L134.25,279.94 L134.60,282.03 L134.95,285.60 L135.30,280.35 L135.65,282.89 L136.00,280.41 L136.35,283.11 L136.70,283.92 L137.05,286.89 L137.40,281.09 L137.75,282.22 L138.10,285.93 L138.45,282.81 L138.80,283.55 L139.15,281.49 L139.50,284.42 L139.85,284.29 L140.20,286.69 L140.55,281.78 L140.90,284.94 L141.25,285.73 L141.60,282.74 L141.95,281.71 L142.30,286.93 L142.65,281.49 L143.00,280.92 L143.35,282.88 L143.70,289.83 L144.05,287.75 L144.40,287.39 L144.75,284.04 L145.10,282.64 L145.45,285.13 L145.80,285.58 L146.15,282.94 L146.50,282.36 L146.85,283.44 L147.20,282.07 L147.55,279.85 L147.90,285.87 L148.25,286.55 L148.60,282.47 L148.95,285.69 L149.30,286.82 L149.65,281.46 L150.00,281.51 L150.35,282.94 L150.70,281.57 L151.05,282.88 L151.40,286.29 L151.75,278.76 L152.10,281.31 L152.45,280.89 L152.80,279.63 L153.15,278.07 L153.50,277.51 L153.85,280.46 L154.20,283.12 L154.55,279.60 L154.90,274.35 L155.25,278.43 L155.60,278.52 L155.95,285.48 L156.30,278.22 L156.65,279.51 L157.00,276.25 L157.35,277.81 L157.70,281.60 L158.05,277.69 L158.40,278.34 L158.75,281.59 L159.10,278.20 L159.45,274.50 L159.80,276.89 L160.15,277.28 L160.50,273.61 L160.85,275.38 L161.20,281.19 L161.55,276.10 L161.90,276.63 L162.25,274.82 L162.60,270.91 L162.95,269.66 L163.30,275.06 L163.65,270.73 L164.00,272.62 L164.35,272.44 L164.70,267.74 L165.05,269.27 L165.40,267.30 L165.75,266.77 L166.10,263.82 L166.45,267.34 L166.80,263.93 L167.15,265.54 L167.50,265.65 L167.85,261.64 L168.20,259.43 L168.55,262.07 L168.90,262.13 L169.25,261.32 L169.60,259.09 L169.95,261.55 L170.30,258.34 L170.65,256.20 L171.00,255.62 L171.35,254.16 L171.70,257.59 L172.05,258.47 L172.40,251.92 L172.75,255.85 L173.10,249.45 L173.45,250.10 L173.80,247.09 L174.15,250.70 L174.50,250.32 L174.85,243.23 L175.20,248.38 L175.55,248.26 L175.90,243.70 L176.25,242.53 L176.60,242.08 L176.95,243.23 L177.30,246.06 L177.65,241.68 L178.00,239.69 L178.35,242.04 L178.70,236.25 L179.05,239.62 L179.40,233.12 L179.75,232.51 L180.10,233.47 L180.45,228.74 L180.80,231.78 L181.15,233.18 L181.50,232.75 L181.85,225.98 L182.20,229.28" stroke="#f00000" stroke-width="1.3" fill="none" stroke-linejoin="round"/>
<path d="M94.00,281.07 L94.70,282.61 L95.40,281.49 L96.10,281.95 L96.80,281.02 L97.50,283.11 L98.20,280.73 L98.90,281.38 L99.60,280.87 L100.30,282.44 L101.00,280.90 L101.70,279.71 L102.40,279.83 L103.10,279.20 L103.80,278.82 L104.50,279.10 L105.20,277.94 L105.90,279.21 L106.60,277.20 L107.30,278.29 L108.00,278.55 L108.70,278.16 L109.40,278.88 L110.10,277.58 L110.80,277.98 L111.50,276.70 L112.20,278.28 L112.90,275.13 L113.60,276.93 L114.30,276.03 L115.00,277.10 L115.70,275.69 L116.40,276.23 L117.10,276.51 L117.80,275.49 L118.50,276.11 L119.20,276.45 L119.90,275.77 L120.60,275.63 L121.30,276.12 L122.00,277.60 L122.70,275.92 L123.40,277.36 L124.10,275.52 L124.80,276.56 L125.50,277.60 L126.20,278.41 L126.90,277.93 L127.60,278.56 L128.30,277.60 L129.00,278.15 L129.70,279.50 L130.40,279.18 L131.10,279.10 L131.80,278.20 L132.50,280.51 L133.20,280.41 L133.90,279.33 L134.60,279.88 L135.30,278.76 L136.00,280.17 L136.70,279.79 L137.40,279.52 L138.10,278.40 L138.80,279.29 L139.50,278.88 L140.20,280.70 L140.90,279.69 L141.60,281.40 L142.30,280.71 L143.00,280.00 L143.70,281.59 L144.40,281.67 L145.10,281.11 L145.80,279.73 L146.50,281.68 L147.20,281.88 L147.90,281.79 L148.60,280.87 L149.30,280.58 L150.00,280.42 L150.70,280.26 L151.40,280.90 L152.10,282.24 L152.80,282.43 L153.50,281.24 L154.20,281.01 L154.90,282.00 L155.60,281.61 L156.30,281.93 L157.00,281.19 L157.70,280.87 L158.40,282.07 L159.10,280.47 L159.80,281.57 L160.50,280.37 L161.20,280.96 L161.90,280.43 L162.60,280.41 L163.30,279.82 L164.00,280.97 L164.70,279.59 L165.40,279.04 L166.10,278.75 L166.80,279.70 L167.50,277.72 L168.20,276.77 L168.90,275.83 L169.60,276.09 L170.30,274.78 L171.00,273.88 L171.70,273.17 L172.40,272.90 L173.10,270.39 L173.80,269.22 L174.50,266.58 L175.20,266.19 L175.90,264.90 L176.60,263.40 L177.30,262.24 L178.00,259.57 L178.70,259.65 L179.40,256.82 L180.10,254.45 L180.80,253.04 L181.50,250.91 L182.20,248.05 L182.90,245.79 L183.60,242.87 L184.30,238.70 L185.00,234.32 L185.70,229.78 L186.40,224.51 L187.10,218.79 L187.80,213.46 L188.50,206.85 L189.20,196.60 L189.90,189.51 L190.60,179.86 L191.30,170.92 L192.00,162.94 L192.70,153.34 L193.40,139.27 L194.10,124.61 L194.80,113.76 L195.50,104.73 L196.20,98.59 L196.90,92.16 L197.60,87.47 L198.30,85.67 L199.00,86.70 L199.70,87.47 L200.40,90.92 L201.10,91.96 L201.80,94.21 L202.50,98.26 L203.20,100.67 L203.90,105.80 L204.60,111.57 L205.30,118.92 L206.00,127.59 L206.70,142.20 L207.40,151.00 L208.10,158.18 L208.80,164.30 L209.50,170.07 L210.20,172.73 L210.90,176.33 L211.60,181.29 L212.30,183.93 L213.00,187.80 L213.70,191.54 L214.40,195.70 L215.10,198.14 L215.80,198.03 L216.50,202.44 L217.20,204.29 L217.90,205.48 L218.60,205.79 L219.30,207.32 L220.00,205.05 L220.70,207.17 L221.40,204.20 L222.10,202.19 L222.80,200.76 L223.50,199.50 L224.20,195.16 L224.90,193.49 L225.60,190.66 L226.30,188.67 L227.00,187.01 L227.70,184.99 L228.40,180.68 L229.10,177.70 L229.80,175.46 L230.50,173.61 L231.20,172.03 L231.90,171.64 L232.60,171.37 L233.30,172.55 L234.00,173.94 L234.70,177.30 L235.40,176.83 L236.10,180.46 L236.80,181.15 L237.50,183.19 L238.20,186.02 L238.90,189.76 L239.60,192.48 L240.30,196.47 L241.00,200.56 L241.70,202.82 L242.40,203.18 L243.10,203.73 L243.80,203.86 L244.50,203.68 L245.20,204.78 L245.90,205.80 L246.60,205.21 L247.30,203.80 L248.00,203.46 L248.70,202.38 L249.40,201.05 L250.10,200.39 L250.80,200.01 L251.50,201.41 L252.20,201.21 L252.90,200.99 L253.60,202.49 L254.30,204.10 L255.00,204.84 L255.70,207.03 L256.40,207.64 L257.10,210.38 L257.80,212.71 L258.50,214.09 L259.20,216.94 L259.90,219.34 L260.60,221.73 L261.30,224.33 L262.00,224.83 L262.70,227.25 L263.40,229.14 L264.10,229.10 L264.80,232.54 L265.50,233.42 L266.20,235.61 L266.90,236.02 L267.60,237.15 L268.30,237.62 L269.00,237.07 L269.70,237.31 L270.40,236.08 L271.10,234.07 L271.80,234.03 L272.50,233.13 L273.20,232.65 L273.90,230.35 L274.60,228.64 L275.30,226.32 L276.00,223.20 L276.70,217.50 L277.40,214.85 L278.10,210.21 L278.80,207.48 L279.50,203.87 L280.20,198.83 L280.90,192.94 L281.60,188.25 L282.30,184.76 L283.00,179.49 L283.70,174.68 L284.40,172.10 L285.10,168.16 L285.80,163.37 L286.50,160.74 L287.20,156.89 L287.90,155.26 L288.60,153.50 L289.30,153.41 L290.00,151.89 L290.70,154.41 L291.40,154.91 L292.10,157.47 L292.80,158.22 L293.50,161.37 L294.20,164.13 L294.90,168.51 L295.60,173.76 L296.30,179.04 L297.00,182.18 L297.70,188.59 L298.40,193.14 L299.10,197.17 L299.80,204.03 L300.50,207.76 L301.20,214.08 L301.90,218.89 L302.60,225.84 L303.30,232.80 L304.00,237.57 L304.70,243.76 L305.40,246.45 L306.10,250.10 L306.80,253.92 L307.50,256.18 L308.20,258.76 L308.90,259.65 L309.60,264.04 L310.30,264.21 L311.00,265.63 L311.70,268.66 L312.40,270.37 L313.10,273.26 L313.80,273.81 L314.50,274.44 L315.20,275.26 L315.90,277.74 L316.60,278.28 L317.30,279.04 L318.00,279.18 L318.70,281.83 L319.40,281.77 L320.10,282.92 L320.80,283.05 L321.50,282.71 L322.20,282.24 L322.90,283.80 L323.60,284.16 L324.30,283.01 L325.00,283.48 L325.70,284.87 L326.40,283.90 L327.10,284.55 L327.80,283.35 L328.50,283.76 L329.20,284.09 L329.90,284.45 L330.60,283.62 L331.30,284.48 L332.00,284.57 L332.70,283.57 L333.40,285.04 L334.10,285.46 L334.80,283.78 L335.50,285.46 L336.20,283.99 L336.90,286.12 L337.60,285.05 L338.30,283.91 L339.00,287.22 L339.70,286.27 L340.40,286.35 L341.10,285.37 L341.80,286.66 L342.50,286.08 L343.20,285.51 L343.90,286.18 L344.60,286.19 L345.30,285.74 L346.00,285.66 L346.70,286.64 L347.40,285.15 L348.10,286.86 L348.80,285.58 L349.50,285.85 L350.20,285.63 L350.90,286.29 L351.60,287.24 L352.30,285.60 L353.00,286.66 L353.70,285.37 L354.40,286.16 L355.10,285.69 L355.80,285.90 L356.50,285.17 L357.20,286.33 L357.90,284.69 L358.60,285.74 L359.30,285.05 L360.00,284.00 L360.70,284.10 L361.40,284.86 L362.10,283.35 L362.80,284.07 L363.50,282.30 L364.20,285.06 L364.90,282.26 L365.60,283.62 L366.30,283.02 L367.00,282.30 L367.70,281.49 L368.40,281.11 L369.10,279.49 L369.80,281.25 L370.50,279.00 L371.20,278.89 L371.90,278.06 L372.60,278.01 L373.30,278.74 L374.00,277.45 L374.70,279.32 L375.40,278.24 L376.10,278.34 L376.80,277.45 L377.50,278.07 L378.20,278.37 L378.90,277.73 L379.60,276.83 L380.30,278.33 L381.00,278.39 L381.70,278.52 L382.40,277.67 L383.10,278.28 L383.80,278.02 L384.50,278.88 L385.20,278.51 L385.90,278.59 L386.60,279.90 L387.30,280.75 L388.00,280.89 L388.70,279.16 L389.40,280.45 L390.10,281.74 L390.80,282.06 L391.50,281.78 L392.20,282.95 L392.90,283.24 L393.60,283.39 L394.30,283.70 L395.00,285.36 L395.70,285.50 L396.40,284.76" stroke="#0000f0" stroke-width="2.5" fill="none" stroke-linejoin="round"/>
<path d="M94.00,280.75 L94.35,284.84 L94.70,279.44 L95.05,279.57 L95.40,277.83 L95.75,279.86 L96.10,282.88 L96.45,274.83 L96.80,281.81 L97.15,287.58 L97.50,277.71 L97.85,284.11 L98.20,277.56 L98.55,282.03 L98.90,281.54 L99.25,279.56 L99.60,281.28 L99.95,287.13 L100.30,283.13 L100.65,279.18 L101.00,281.24 L101.35,282.59 L101.70,284.97 L102.05,285.19 L102.40,276.85 L102.75,283.23 L103.10,282.39 L103.45,283.44 L103.80,279.41 L104.15,274.40 L104.50,280.94 L104.85,283.64 L105.20,281.13 L105.55,280.67 L105.90,276.45 L106.25,280.19 L106.60,275.12 L106.95,282.97 L107.30,274.06 L107.65,279.35 L108.00,276.64 L108.35,279.05 L108.70,274.37 L109.05,280.15 L109.40,278.29 L109.75,276.95 L110.10,278.06 L110.45,277.42 L110.80,277.02 L111.15,278.04 L111.50,281.32 L111.85,272.83 L112.20,274.42 L112.55,281.64 L112.90,279.20 L113.25,274.31 L113.60,277.91 L113.95,281.44 L114.30,280.22 L114.65,275.92 L115.00,279.13 L115.35,278.51 L115.70,273.43 L116.05,277.37 L116.40,277.36 L116.75,278.79 L117.10,275.34 L117.45,281.45 L117.80,277.93 L118.15,272.17 L118.50,277.52 L118.85,280.64 L119.20,281.20 L119.55,281.81 L119.90,273.02 L120.25,282.92 L120.60,277.89 L120.95,274.85 L121.30,275.13 L121.65,270.64 L122.00,269.49 L122.35,275.06 L122.70,274.87 L123.05,280.07 L123.40,272.92 L123.75,281.27 L124.10,276.36 L124.45,278.27 L124.80,276.52 L125.15,277.10 L125.50,273.06 L125.85,281.03 L126.20,276.02 L126.55,277.32 L126.90,273.51 L127.25,274.31 L127.60,277.80 L127.95,279.78 L128.30,279.70 L128.65,281.66 L129.00,279.16 L129.35,278.68 L129.70,281.96 L130.05,278.76 L130.40,277.39 L130.75,278.35 L131.10,275.15 L131.45,275.75 L131.80,280.82 L132.15,284.44 L132.50,277.28 L132.85,284.25 L133.20,283.58 L133.55,279.45 L133.90,276.86 L134.25,276.93 L134.60,279.50 L134.95,278.58 L135.30,279.13 L135.65,273.58 L136.00,275.59 L136.35,284.54 L136.70,277.76 L137.05,280.20 L137.40,276.11 L137.75,274.86 L138.10,276.24 L138.45,280.84 L138.80,280.23 L139.15,281.37 L139.50,279.65 L139.85,284.81 L140.20,280.39 L140.55,282.44 L140.90,280.55 L141.25,273.45 L141.60,277.80 L141.95,283.95 L142.30,277.86 L142.65,277.62 L143.00,276.75 L143.35,279.99 L143.70,280.19 L144.05,278.15 L144.40,279.46 L144.75,285.37 L145.10,280.58 L145.45,277.77 L145.80,283.98 L146.15,283.12 L146.50,284.11 L146.85,280.26 L147.20,279.70 L147.55,284.43 L147.90,278.44 L148.25,283.52 L148.60,280.40 L148.95,278.78 L149.30,279.90 L149.65,281.50 L150.00,277.75 L150.35,283.04 L150.70,282.78 L151.05,280.47 L151.40,282.87 L151.75,277.74 L152.10,284.19 L152.45,289.23 L152.80,276.75 L153.15,283.51 L153.50,281.06 L153.85,280.62 L154.20,280.62 L154.55,278.57 L154.90,280.18 L155.25,280.47 L155.60,282.02 L155.95,282.56 L156.30,280.03 L156.65,284.19 L157.00,282.19 L157.35,279.74 L157.70,278.82 L158.05,280.19 L158.40,286.14 L158.75,280.81 L159.10,277.93 L159.45,276.66 L159.80,274.67 L160.15,280.44 L160.50,281.19 L160.85,281.09 L161.20,282.26 L161.55,286.13 L161.90,278.11 L162.25,282.30 L162.60,281.04 L162.95,287.70 L163.30,279.40 L163.65,281.23 L164.00,279.25 L164.35,276.32 L164.70,280.41 L165.05,283.56 L165.40,278.73 L165.75,279.36 L166.10,277.71 L166.45,281.90 L166.80,281.29 L167.15,276.04 L167.50,281.74 L167.85,279.13 L168.20,278.46 L168.55,277.91 L168.90,278.68 L169.25,279.54 L169.60,276.79 L169.95,272.72 L170.30,276.54 L170.65,270.67 L171.00,275.82 L171.35,272.75 L171.70,270.64 L172.05,274.12 L172.40,274.91 L172.75,273.63 L173.10,273.13 L173.45,269.06 L173.80,268.38 L174.15,266.88 L174.50,269.62 L174.85,268.10 L175.20,264.15 L175.55,264.82 L175.90,262.36 L176.25,263.70 L176.60,261.97 L176.95,260.23 L177.30,262.76 L177.65,262.78 L178.00,259.72 L178.35,261.34 L178.70,257.37 L179.05,257.76 L179.40,254.63 L179.75,254.14 L180.10,252.75 L180.45,256.64 L180.80,255.79 L181.15,250.98 L181.50,251.20 L181.85,250.37 L182.20,244.76 L182.55,247.23 L182.90,246.35 L183.25,244.46 L183.60,242.67 L183.95,242.14 L184.30,240.14 L184.65,238.33 L185.00,233.87 L185.35,236.07 L185.70,228.85 L186.05,228.08 L186.40,228.09 L186.75,223.55 L187.10,219.36 L187.45,218.74 L187.80,213.42 L188.15,208.25 L188.50,206.00 L188.85,203.02 L189.20,198.71 L189.55,195.98 L189.90,187.80 L190.25,188.68 L190.60,182.06 L190.95,174.10 L191.30,172.68 L191.65,167.46 L192.00,161.98 L192.35,156.47 L192.70,153.56 L193.05,144.89 L193.40,139.55 L193.75,133.86 L194.10,122.91 L194.45,117.32 L194.80,114.44 L195.15,111.38 L195.50,105.91 L195.85,101.46 L196.20,99.40 L196.55,91.36 L196.90,92.46 L197.25,90.12 L197.60,85.29 L197.95,83.78 L198.30,89.50 L198.65,85.42 L199.00,87.43 L199.35,85.91 L199.70,86.68 L200.05,90.15 L200.40,88.70 L200.75,90.38 L201.10,91.69 L201.45,95.58 L201.80,94.30 L202.15,97.73 L202.50,99.19 L202.85,97.86 L203.20,100.01 L203.55,103.71 L203.90,104.53 L204.25,108.78 L204.60,111.36 L204.95,117.66 L205.30,116.64 L205.65,124.83 L206.00,125.42 L206.35,133.62 L206.70,141.23 L207.05,147.57 L207.40,151.17 L207.75,154.54 L208.10,159.09 L208.45,160.22 L208.80,162.93 L209.15,164.73 L209.50,170.03 L209.85,172.18 L210.20,171.24 L210.55,175.46 L210.90,177.70 L211.25,177.56 L211.60,178.83 L211.95,184.47 L212.30,185.77 L212.65,187.19 L213.00,189.74 L213.35,187.89 L213.70,192.99 L214.05,192.24 L214.40,195.68 L214.75,198.66 L215.10,196.73 L215.45,197.05 L215.80,199.56 L216.15,203.34 L216.50,202.24 L216.85,199.69 L217.20,204.22 L217.55,203.05 L217.90,204.12 L218.25,209.26 L218.60,207.68 L218.95,205.48 L219.30,208.81 L219.65,205.25 L220.00,208.92 L220.35,205.63 L220.70,208.72 L221.05,206.74 L221.40,205.36 L221.75,203.33 L222.10,201.74 L222.45,203.47 L222.80,197.23 L223.15,199.72 L223.50,200.63 L223.85,195.70 L224.20,195.30 L224.55,192.37 L224.90,189.72 L225.25,192.68 L225.60,190.92 L225.95,191.89 L226.30,191.55 L226.65,189.86 L227.00,187.53 L227.35,184.42 L227.70,185.99 L228.05,180.73 L228.40,178.22 L228.75,178.25 L229.10,177.47 L229.45,178.15 L229.80,173.61 L230.15,175.57 L230.50,172.39 L230.85,172.71 L231.20,173.04 L231.55,170.86 L231.90,170.55 L232.25,169.39 L232.60,172.67 L232.95,174.61 L233.30,174.05 L233.65,174.22 L234.00,175.83 L234.35,176.47 L234.70,178.16 L235.05,178.56 L235.40,174.81 L235.75,178.74 L236.10,177.05 L236.45,180.14 L236.80,180.18 L237.15,184.21 L237.50,185.03 L237.85,185.03 L238.20,183.90 L238.55,189.69 L238.90,192.28 L239.25,188.75 L239.60,191.30 L239.95,194.30 L240.30,195.15 L240.65,200.19 L241.00,204.02 L241.35,201.01 L241.70,202.18 L242.05,200.36 L242.40,203.65 L242.75,203.96 L243.10,203.46 L243.45,205.23 L243.80,202.26 L244.15,203.16 L244.50,207.57 L244.85,201.91 L245.20,202.78 L245.55,202.19 L245.90,206.59 L246.25,202.78 L246.60,204.77 L246.95,203.80 L247.30,206.74 L247.65,201.21 L248.00,204.39 L248.35,202.11 L248.70,201.61 L249.05,200.75 L249.40,201.94 L249.75,198.47 L250.10,201.94 L250.45,203.27 L250.80,197.91 L251.15,200.31 L251.50,202.16 L251.85,199.96 L252.20,199.15 L252.55,200.91 L252.90,197.94 L253.25,202.04 L253.60,202.40 L253.95,202.96 L254.30,201.81 L254.65,205.33 L255.00,207.53 L255.35,206.25 L255.70,207.88 L256.05,209.93 L256.40,208.53 L256.75,207.19 L257.10,211.09 L257.45,213.66 L257.80,214.19 L258.15,213.32 L258.50,214.65 L258.85,211.91 L259.20,213.20 L259.55,217.41 L259.90,218.27 L260.25,222.88 L260.60,224.58 L260.95,225.09 L261.30,223.16 L261.65,225.35 L262.00,224.29 L262.35,225.99 L262.70,228.14 L263.05,226.28 L263.40,227.00 L263.75,229.38 L264.10,228.94 L264.45,232.68 L264.80,229.68 L265.15,233.34 L265.50,233.53 L265.85,232.85 L266.20,233.64 L266.55,236.37 L266.90,236.27 L267.25,238.89 L267.60,237.22 L267.95,239.94 L268.30,237.43 L268.65,238.96 L269.00,234.85 L269.35,235.82 L269.70,235.21 L270.05,237.71 L270.40,238.46 L270.75,236.56 L271.10,236.44 L271.45,231.93 L271.80,232.00 L272.15,232.43 L272.50,233.55 L272.85,231.45 L273.20,228.76 L273.55,230.12 L273.90,230.50 L274.25,229.31 L274.60,229.68 L274.95,227.43 L275.30,226.46 L275.65,221.73 L276.00,221.95 L276.35,219.25 L276.70,216.54 L277.05,217.41 L277.40,214.62 L277.75,211.17 L278.10,208.20 L278.45,207.18 L278.80,209.75 L279.15,202.92 L279.50,202.74 L279.85,201.37 L280.20,198.44 L280.55,195.17 L280.90,195.90 L281.25,189.73 L281.60,187.34 L281.95,189.28 L282.30,182.06 L282.65,179.69 L283.00,182.25 L283.35,175.22 L283.70,173.77 L284.05,171.69 L284.40,173.00 L284.75,168.03 L285.10,167.90 L285.45,164.47 L285.80,166.24 L286.15,161.83 L286.50,162.56 L286.85,161.21 L287.20,159.00 L287.55,156.56 L287.90,153.15 L288.25,151.61 L288.60,153.52 L288.95,154.27 L289.30,154.16 L289.65,152.83 L290.00,150.51 L290.35,155.31 L290.70,155.12 L291.05,155.67 L291.40,153.64 L291.75,156.02 L292.10,155.30 L292.45,158.07 L292.80,159.04 L293.15,158.54 L293.50,162.13 L293.85,165.60 L294.20,166.84 L294.55,164.56 L294.90,168.16 L295.25,175.23 L295.60,174.74 L295.95,176.62 L296.30,177.21 L296.65,182.67 L297.00,184.81 L297.35,182.12 L297.70,190.57 L298.05,188.81 L298.40,188.91 L298.75,196.23 L299.10,199.13 L299.45,202.46 L299.80,199.67 L300.15,203.87 L300.50,206.09 L300.85,212.91 L301.20,212.02 L301.55,215.49 L301.90,218.36 L302.25,221.42 L302.60,224.92 L302.95,226.28 L303.30,231.87 L303.65,232.39 L304.00,234.93 L304.35,242.97 L304.70,241.00 L305.05,245.99 L305.40,246.50 L305.75,249.87 L306.10,248.64 L306.45,253.22 L306.80,254.85 L307.15,252.06 L307.50,256.17 L307.85,257.33 L308.20,260.44 L308.55,257.86 L308.90,261.91 L309.25,260.22 L309.60,265.67 L309.95,266.98 L310.30,267.33 L310.65,264.26 L311.00,267.68 L311.35,268.56 L311.70,271.35 L312.05,267.26 L312.40,271.22 L312.75,273.08 L313.10,273.77 L313.45,271.00 L313.80,273.26 L314.15,276.13 L314.50,274.63 L314.85,274.28 L315.20,274.28 L315.55,278.33 L315.90,276.59 L316.25,276.40 L316.60,276.05 L316.95,276.31 L317.30,281.90 L317.65,282.49 L318.00,280.05 L318.35,281.10 L318.70,282.65 L319.05,280.34 L319.40,279.62 L319.75,279.66 L320.10,283.48 L320.45,283.63 L320.80,282.54 L321.15,285.57 L321.50,280.68 L321.85,283.57 L322.20,282.82 L322.55,284.01 L322.90,283.81 L323.25,287.31 L323.60,283.67 L323.95,285.29 L324.30,284.15 L324.65,281.25 L325.00,285.36 L325.35,285.42 L325.70,285.23 L326.05,281.83 L326.40,287.00 L326.75,286.80 L327.10,282.81 L327.45,284.28 L327.80,283.66 L328.15,280.14 L328.50,284.48 L328.85,282.79 L329.20,286.71 L329.55,286.08 L329.90,287.46 L330.25,282.88 L330.60,284.33 L330.95,283.94 L331.30,281.61 L331.65,281.87 L332.00,284.78 L332.35,287.02 L332.70,284.14 L333.05,286.50 L333.40,287.79 L333.75,285.81 L334.10,285.25 L334.45,283.75 L334.80,287.39 L335.15,286.38 L335.50,281.94 L335.85,286.58 L336.20,285.89 L336.55,281.23 L336.90,285.87 L337.25,283.93 L337.60,284.70 L337.95,284.96 L338.30,283.90 L338.65,285.86 L339.00,287.26 L339.35,283.97 L339.70,285.20 L340.05,285.02 L340.40,284.09 L340.75,285.37 L341.10,284.36 L341.45,287.34 L341.80,284.02 L342.15,286.86 L342.50,288.09 L342.85,285.14 L343.20,285.10 L343.55,290.37 L343.90,286.55 L344.25,287.91 L344.60,283.84 L344.95,289.20 L345.30,285.85 L345.65,284.52 L346.00,285.28 L346.35,286.74 L346.70,286.75 L347.05,285.12 L347.40,286.39 L347.75,287.27 L348.10,285.09 L348.45,288.45 L348.80,283.26 L349.15,287.35 L349.50,286.48 L349.85,285.54 L350.20,288.68 L350.55,284.36 L350.90,284.08 L351.25,282.12 L351.60,286.72 L351.95,287.24 L352.30,283.45 L352.65,285.23 L353.00,285.00 L353.35,287.85 L353.70,284.11 L354.05,285.15 L354.40,287.57 L354.75,283.19 L355.10,285.66 L355.45,284.92 L355.80,286.47 L356.15,281.58 L356.50,281.60 L356.85,287.09 L357.20,281.80 L357.55,283.58 L357.90,284.33 L358.25,284.62 L358.60,287.49 L358.95,283.88 L359.30,287.04 L359.65,283.30 L360.00,287.42 L360.35,285.53 L360.70,283.01 L361.05,286.51 L361.40,284.05 L361.75,278.92 L362.10,285.72 L362.45,282.81 L362.80,286.58 L363.15,281.23 L363.50,282.08 L363.85,282.86 L364.20,286.20 L364.55,281.63 L364.90,282.38 L365.25,282.18 L365.60,281.17 L365.95,283.93 L366.30,281.62 L366.65,283.15 L367.00,281.99 L367.35,283.12 L367.70,282.71 L368.05,279.32 L368.40,279.75 L368.75,278.28 L369.10,277.98 L369.45,284.01 L369.80,278.00 L370.15,278.49 L370.50,280.35 L370.85,281.94 L371.20,278.89 L371.55,281.17 L371.90,278.97 L372.25,280.86 L372.60,279.52 L372.95,279.43 L373.30,281.96 L373.65,279.63 L374.00,280.46 L374.35,279.66 L374.70,276.61 L375.05,276.38 L375.40,280.77 L375.75,275.32 L376.10,280.63 L376.45,278.62 L376.80,278.09 L377.15,277.15 L377.50,277.85 L377.85,279.36 L378.20,275.95 L378.55,275.62 L378.90,279.82 L379.25,280.56 L379.60,277.61 L379.95,276.71 L380.30,275.59 L380.65,276.79 L381.00,280.32 L381.35,277.50 L381.70,280.71 L382.05,280.98 L382.40,281.26 L382.75,280.21 L383.10,278.71 L383.45,279.20 L383.80,279.02 L384.15,281.14 L384.50,279.62 L384.85,279.24 L385.20,277.98 L385.55,277.95 L385.90,280.66 L386.25,276.53 L386.60,281.27 L386.95,276.55 L387.30,277.48 L387.65,279.40 L388.00,277.68 L388.35,277.60 L388.70,280.59 L389.05,277.86 L389.40,278.32 L389.75,279.55 L390.10,280.97 L390.45,283.36 L390.80,279.71 L391.15,283.81 L391.50,280.62 L391.85,281.84 L392.20,282.81 L392.55,285.08 L392.90,283.14 L393.25,282.58 L393.60,283.81 L393.95,283.21 L394.30,283.27 L394.65,284.57 L395.00,285.35 L395.35,285.70 L395.70,284.05 L396.05,283.61 L396.40,287.20 L396.75,287.28" stroke="#0000f0" stroke-width="1.3" fill="none" stroke-linejoin="round"/>
<path d="M94.00,282.09 L94.35,282.52 L94.70,282.59 L95.05,278.46 L95.40,279.00 L95.75,285.52 L96.10,283.06 L96.45,285.48 L96.80,284.74 L97.15,278.18 L97.50,279.55 L97.85,274.68 L98.20,281.86 L98.55,279.39 L98.90,274.81 L99.25,279.14 L99.60,284.52 L99.95,283.85 L100.30,284.85 L100.65,282.55 L101.00,282.29 L101.35,277.48 L101.70,281.35 L102.05,274.92 L102.40,276.46 L102.75,281.64 L103.10,283.24 L103.45,280.48 L103.80,281.56 L104.15,279.88 L104.50,282.44 L104.85,280.38 L105.20,281.98 L105.55,279.46 L105.90,274.24 L106.25,286.85 L106.60,277.37 L106.95,280.27 L107.30,277.28 L107.65,275.55 L108.00,281.35 L108.35,274.48 L108.70,281.67 L109.05,277.47 L109.40,279.50 L109.75,274.91 L110.10,277.96 L110.45,277.44 L110.80,278.15 L111.15,273.68 L111.50,279.76 L111.85,276.17 L112.20,277.85 L112.55,277.17 L112.90,273.72 L113.25,276.72 L113.60,274.01 L113.95,279.01 L114.30,273.75 L114.65,272.99 L115.00,278.20 L115.35,278.24 L115.70,282.58 L116.05,276.11 L116.40,276.50 L116.75,278.98 L117.10,274.13 L117.45,275.45 L117.80,278.98 L118.15,273.82 L118.50,277.85 L118.85,275.78 L119.20,279.51 L119.55,277.75 L119.90,277.96 L120.25,275.18 L120.60,273.94 L120.95,276.52 L121.30,278.06 L121.65,272.99 L122.00,271.57 L122.35,277.09 L122.70,274.51 L123.05,272.62 L123.40,278.38 L123.75,277.02 L124.10,279.44 L124.45,275.06 L124.80,272.61 L125.15,275.30 L125.50,276.58 L125.85,279.37 L126.20,274.61 L126.55,280.55 L126.90,280.11 L127.25,280.16 L127.60,276.55 L127.95,281.30 L128.30,278.05 L128.65,281.41 L129.00,283.53 L129.35,285.73 L129.70,281.38 L130.05,276.78 L130.40,277.92 L130.75,276.27 L131.10,280.90 L131.45,283.36 L131.80,279.34 L132.15,282.29 L132.50,281.30 L132.85,284.02 L133.20,278.58 L133.55,276.25 L133.90,281.78 L134.25,282.88 L134.60,280.04 L134.95,280.08 L135.30,280.00 L135.65,276.08 L136.00,282.07 L136.35,279.37 L136.70,279.80 L137.05,278.72 L137.40,282.33 L137.75,273.78 L138.10,277.68 L138.45,277.72 L138.80,278.32 L139.15,277.77 L139.50,283.33 L139.85,282.79 L140.20,281.73 L140.55,279.28 L140.90,277.01 L141.25,278.05 L141.60,284.08 L141.95,280.80 L142.30,281.80 L142.65,285.93 L143.00,278.38 L143.35,281.83 L143.70,283.59 L144.05,278.71 L144.40,275.28 L144.75,277.98 L145.10,282.18 L145.45,283.08 L145.80,278.59 L146.15,282.85 L146.50,284.70 L146.85,283.80 L147.20,284.84 L147.55,282.72 L147.90,280.47 L148.25,285.29 L148.60,277.22 L148.95,280.37 L149.30,280.38 L149.65,284.15 L150.00,278.43 L150.35,283.29 L150.70,286.62 L151.05,277.59 L151.40,281.16 L151.75,279.50 L152.10,285.63 L152.45,275.44 L152.80,277.82 L153.15,283.89 L153.50,282.76 L153.85,284.56 L154.20,281.33 L154.55,283.40 L154.90,283.11 L155.25,284.64 L155.60,282.71 L155.95,279.85 L156.30,279.36 L156.65,286.15 L157.00,278.26 L157.35,278.29 L157.70,282.04 L158.05,279.78 L158.40,280.84 L158.75,282.99 L159.10,277.48 L159.45,280.49 L159.80,285.34 L160.15,284.40 L160.50,287.19 L160.85,282.33 L161.20,281.19 L161.55,282.52 L161.90,285.68 L162.25,284.32 L162.60,281.27 L162.95,278.55 L163.30,280.23 L163.65,281.30 L164.00,276.60 L164.35,279.37 L164.70,276.62 L165.05,279.67 L165.40,277.44 L165.75,283.08 L166.10,278.99 L166.45,277.54 L166.80,281.04 L167.15,278.51 L167.50,277.26 L167.85,277.44 L168.20,277.99 L168.55,279.76 L168.90,279.17 L169.25,276.72 L169.60,276.10 L169.95,277.57 L170.30,274.35 L170.65,275.58 L171.00,277.83 L171.35,270.97 L171.70,274.63 L172.05,275.43 L172.40,271.51 L172.75,268.20 L173.10,273.30 L173.45,267.05 L173.80,270.44 L174.15,269.46 L174.50,266.73 L174.85,265.86 L175.20,264.46 L175.55,267.58 L175.90,261.63 L176.25,263.35 L176.60,265.22 L176.95,260.93 L177.30,259.00 L177.65,261.16 L178.00,261.75 L178.35,261.29 L178.70,258.99 L179.05,261.99 L179.40,258.91 L179.75,254.98 L180.10,255.02 L180.45,251.99 L180.80,252.15 L181.15,252.72 L181.50,251.91 L181.85,249.55 L182.20,246.92" stroke="#0000f0" stroke-width="1.3" fill="none" stroke-linejoin="round"/>
<path d="M527.80,284.83 L528.50,284.37 L529.20,284.73 L529.90,283.57 L530.60,285.14 L531.30,284.32 L532.00,284.38 L532.70,283.32 L533.40,284.97 L534.10,282.87 L534.80,282.55 L535.50,283.35 L536.20,281.53 L536.90,281.89 L537.60,282.85 L538.30,281.58 L539.00,280.58 L539.70,281.97 L540.40,282.59 L541.10,281.78 L541.80,282.52 L542.50,281.29 L543.20,280.47 L543.90,281.09 L544.60,281.45 L545.30,281.16 L546.00,281.14 L546.70,281.36 L547.40,281.78 L548.10,280.51 L548.80,281.07 L549.50,280.74 L550.20,281.05 L550.90,281.15 L551.60,281.43 L552.30,280.42 L553.00,280.35 L553.70,280.64 L554.40,281.11 L555.10,280.81 L555.80,280.74 L556.50,282.33 L557.20,280.22 L557.90,282.16 L558.60,281.28 L559.30,281.18 L560.00,281.48 L560.70,283.05 L561.40,280.62 L562.10,281.51 L562.80,281.51 L563.50,282.07 L564.20,280.24 L564.90,282.71 L565.60,281.35 L566.30,283.48 L567.00,282.05 L567.70,282.28 L568.40,281.93 L569.10,282.66 L569.80,283.92 L570.50,283.58 L571.20,283.43 L571.90,282.83 L572.60,282.57 L573.30,284.64 L574.00,286.03 L574.70,284.67 L575.40,285.58 L576.10,284.60 L576.80,285.29 L577.50,284.29 L578.20,285.81 L578.90,284.02 L579.60,285.18 L580.30,286.08 L581.00,286.03 L581.70,285.83 L582.40,287.27 L583.10,285.63 L583.80,286.83 L584.50,287.10 L585.20,287.60 L585.90,288.47 L586.60,287.46 L587.30,286.97 L588.00,286.68 L588.70,286.73 L589.40,287.61 L590.10,286.77 L590.80,287.13 L591.50,287.13 L592.20,287.83 L592.90,286.94 L593.60,286.19 L594.30,287.24 L595.00,285.70 L595.70,286.61 L596.40,286.66 L597.10,287.51 L597.80,286.86 L598.50,285.59 L599.20,286.64 L599.90,285.40 L600.60,286.41 L601.30,285.51 L602.00,285.02 L602.70,285.47 L603.40,283.50 L604.10,283.40 L604.80,281.61 L605.50,280.43 L606.20,281.09 L606.90,279.34 L607.60,278.45 L608.30,275.71 L609.00,273.91 L609.70,275.20 L610.40,272.24 L611.10,270.68 L611.80,269.91 L612.50,267.92 L613.20,265.01 L613.90,263.89 L614.60,262.11 L615.30,260.27 L616.00,257.23 L616.70,252.40 L617.40,248.18 L618.10,243.69 L618.80,240.51 L619.50,235.65 L620.20,232.37 L620.90,227.99 L621.60,220.16 L622.30,212.16 L623.00,200.11 L623.70,189.74 L624.40,178.71 L625.10,167.93 L625.80,160.51 L626.50,153.06 L627.20,145.90 L627.90,138.56 L628.60,131.68 L629.30,123.57 L630.00,116.50 L630.70,108.71 L631.40,102.80 L632.10,100.43 L632.80,94.75 L633.50,93.79 L634.20,93.14 L634.90,92.68 L635.60,95.59 L636.30,97.28 L637.00,102.98 L637.70,106.95 L638.40,113.46 L639.10,120.30 L639.80,127.36 L640.50,134.37 L641.20,142.67 L641.90,150.47 L642.60,157.50 L643.30,163.67 L644.00,169.74 L644.70,174.13 L645.40,179.03 L646.10,184.69 L646.80,188.40 L647.50,192.22 L648.20,195.57 L648.90,199.60 L649.60,201.22 L650.30,205.29 L651.00,206.23 L651.70,210.03 L652.40,212.02 L653.10,214.37 L653.80,215.77 L654.50,217.69 L655.20,218.80 L655.90,218.82 L656.60,216.78 L657.30,215.38 L658.00,214.25 L658.70,212.51 L659.40,209.57 L660.10,207.83 L660.80,206.44 L661.50,203.83 L662.20,198.34 L662.90,197.02 L663.60,194.25 L664.30,191.69 L665.00,188.93 L665.70,187.13 L666.40,186.94 L667.10,186.37 L667.80,188.21 L668.50,187.79 L669.20,191.14 L669.90,191.93 L670.60,194.44 L671.30,196.22 L672.00,199.49 L672.70,203.01 L673.40,204.35 L674.10,207.47 L674.80,210.83 L675.50,212.98 L676.20,214.97 L676.90,216.66 L677.60,219.20 L678.30,221.08 L679.00,222.81 L679.70,223.96 L680.40,222.70 L681.10,221.16 L681.80,220.63 L682.50,218.51 L683.20,217.58 L683.90,215.55 L684.60,214.02 L685.30,214.21 L686.00,213.25 L686.70,212.81 L687.40,214.28 L688.10,216.09 L688.80,216.58 L689.50,219.44 L690.20,220.78 L690.90,222.61 L691.60,222.98 L692.30,225.13 L693.00,228.16 L693.70,228.95 L694.40,231.68 L695.10,234.44 L695.80,236.05 L696.50,238.15 L697.20,241.23 L697.90,242.68 L698.60,244.60 L699.30,246.10 L700.00,245.55 L700.70,247.92 L701.40,249.02 L702.10,250.64 L702.80,250.85 L703.50,251.72 L704.20,251.44 L704.90,253.62 L705.60,252.68 L706.30,252.52 L707.00,251.41 L707.70,250.38 L708.40,248.91 L709.10,247.83 L709.80,243.90 L710.50,243.81 L711.20,239.54 L711.90,238.47 L712.60,235.44 L713.30,231.28 L714.00,228.41 L714.70,222.74 L715.40,220.00 L716.10,214.11 L716.80,208.87 L717.50,202.88 L718.20,198.72 L718.90,194.94 L719.60,190.26 L720.30,185.72 L721.00,182.33 L721.70,178.29 L722.40,175.16 L723.10,174.00 L723.80,172.39 L724.50,169.59 L725.20,168.77 L725.90,170.65 L726.60,170.67 L727.30,173.99 L728.00,173.34 L728.70,175.72 L729.40,178.70 L730.10,183.62 L730.80,189.08 L731.50,191.37 L732.20,197.33 L732.90,202.75 L733.60,208.26 L734.30,214.46 L735.00,221.24 L735.70,225.65 L736.40,229.43 L737.10,234.83 L737.80,239.05 L738.50,242.94 L739.20,247.14 L739.90,250.01 L740.60,254.86 L741.30,258.23 L742.00,260.54 L742.70,263.52 L743.40,266.71 L744.10,271.78 L744.80,273.25 L745.50,275.71 L746.20,279.13 L746.90,279.04 L747.60,280.32 L748.30,281.80 L749.00,283.32 L749.70,284.80 L750.40,284.63 L751.10,286.19 L751.80,286.81 L752.50,288.37 L753.20,288.94 L753.90,288.80 L754.60,288.33 L755.30,289.47 L756.00,289.57 L756.70,287.83 L757.40,288.31 L758.10,289.24 L758.80,287.60 L759.50,289.32 L760.20,287.55 L760.90,288.79 L761.60,287.37 L762.30,287.76 L763.00,288.18 L763.70,287.33 L764.40,288.15 L765.10,286.76 L765.80,286.93 L766.50,286.95 L767.20,287.24 L767.90,287.74 L768.60,287.91 L769.30,288.00 L770.00,287.61 L770.70,288.98 L771.40,286.87 L772.10,288.23 L772.80,287.99 L773.50,288.39 L774.20,286.85 L774.90,287.07 L775.60,288.34 L776.30,287.82 L777.00,286.50 L777.70,287.07 L778.40,288.36 L779.10,286.85 L779.80,287.86 L780.50,287.65 L781.20,287.70 L781.90,287.42 L782.60,288.39 L783.30,288.12 L784.00,288.59 L784.70,287.82 L785.40,288.20 L786.10,287.20 L786.80,286.62 L787.50,287.25 L788.20,288.42 L788.90,287.33 L789.60,287.42 L790.30,287.69 L791.00,286.27 L791.70,286.60 L792.40,286.76 L793.10,286.10 L793.80,286.61 L794.50,285.77 L795.20,284.98 L795.90,285.42 L796.60,285.30 L797.30,286.60 L798.00,283.36 L798.70,284.48 L799.40,284.87 L800.10,282.72 L800.80,282.98 L801.50,282.38 L802.20,282.64 L802.90,281.27 L803.60,279.42 L804.30,278.85 L805.00,278.32 L805.70,276.76 L806.40,277.57 L807.10,276.83 L807.80,274.70 L808.50,275.82 L809.20,274.49 L809.90,275.56 L810.60,273.78 L811.30,273.36 L812.00,274.22 L812.70,272.99 L813.40,273.64 L814.10,273.50 L814.80,271.71 L815.50,271.36 L816.20,271.74 L816.90,271.69 L817.60,272.44 L818.30,273.81 L819.00,273.58 L819.70,274.12 L820.40,274.85 L821.10,275.59 L821.80,275.99 L822.50,276.71 L823.20,277.97 L823.90,278.86 L824.60,278.37 L825.30,278.72 L826.00,278.07 L826.70,280.43 L827.40,282.18 L828.10,282.01 L828.80,283.23 L829.50,283.91 L830.20,284.08 L830.90,285.28 L831.60,284.72 L832.30,289.00 L833.00,289.05" stroke="#f00000" stroke-width="2.5" fill="none" stroke-linejoin="round"/>
<path d="M527.80,288.65 L528.15,282.79 L528.50,286.89 L528.85,281.72 L529.20,285.14 L529.55,287.03 L529.90,284.24 L530.25,280.97 L530.60,288.73 L530.95,282.05 L531.30,280.04 L531.65,287.97 L532.00,288.18 L532.35,280.07 L532.70,285.92 L533.05,282.88 L533.40,283.71 L533.75,283.34 L534.10,288.45 L534.45,284.01 L534.80,283.46 L535.15,286.57 L535.50,283.58 L535.85,281.34 L536.20,280.85 L536.55,282.36 L536.90,283.78 L537.25,282.63 L537.60,279.24 L537.95,282.31 L538.30,287.13 L538.65,281.13 L539.00,285.83 L539.35,282.63 L539.70,283.48 L540.05,278.90 L540.40,279.62 L540.75,276.30 L541.10,282.00 L541.45,279.71 L541.80,277.53 L542.15,277.62 L542.50,287.47 L542.85,285.25 L543.20,281.52 L543.55,278.84 L543.90,283.41 L544.25,281.41 L544.60,279.40 L544.95,279.09 L545.30,282.51 L545.65,284.62 L546.00,284.93 L546.35,278.11 L546.70,281.56 L547.05,282.09 L547.40,281.98 L547.75,280.30 L548.10,275.96 L548.45,276.63 L548.80,282.75 L549.15,290.09 L549.50,283.90 L549.85,281.08 L550.20,273.79 L550.55,279.02 L550.90,280.24 L551.25,281.20 L551.60,282.97 L551.95,280.60 L552.30,280.87 L552.65,278.46 L553.00,280.18 L553.35,275.41 L553.70,283.70 L554.05,281.81 L554.40,284.90 L554.75,278.12 L555.10,280.00 L555.45,276.77 L555.80,276.27 L556.15,283.84 L556.50,280.65 L556.85,285.76 L557.20,281.51 L557.55,283.34 L557.90,279.81 L558.25,285.28 L558.60,283.70 L558.95,278.12 L559.30,285.36 L559.65,282.75 L560.00,279.33 L560.35,284.24 L560.70,287.42 L561.05,283.74 L561.40,282.55 L561.75,276.27 L562.10,280.03 L562.45,284.27 L562.80,286.97 L563.15,279.86 L563.50,285.23 L563.85,278.44 L564.20,286.78 L564.55,280.85 L564.90,279.92 L565.25,280.24 L565.60,280.47 L565.95,283.83 L566.30,283.09 L566.65,282.77 L567.00,279.76 L567.35,278.32 L567.70,281.28 L568.05,275.61 L568.40,282.78 L568.75,283.47 L569.10,277.68 L569.45,284.53 L569.80,282.99 L570.15,288.07 L570.50,282.02 L570.85,283.30 L571.20,287.52 L571.55,290.11 L571.90,286.29 L572.25,279.97 L572.60,285.47 L572.95,283.10 L573.30,285.77 L573.65,286.42 L574.00,289.21 L574.35,277.76 L574.70,288.48 L575.05,287.61 L575.40,285.30 L575.75,283.45 L576.10,283.83 L576.45,279.70 L576.80,288.43 L577.15,286.90 L577.50,284.82 L577.85,285.41 L578.20,277.81 L578.55,281.18 L578.90,283.40 L579.25,285.78 L579.60,285.46 L579.95,282.93 L580.30,279.89 L580.65,284.45 L581.00,289.15 L581.35,282.33 L581.70,286.94 L582.05,283.31 L582.40,290.77 L582.75,288.06 L583.10,282.11 L583.45,289.72 L583.80,288.02 L584.15,286.49 L584.50,288.78 L584.85,283.97 L585.20,284.31 L585.55,282.19 L585.90,285.78 L586.25,285.42 L586.60,280.84 L586.95,281.64 L587.30,290.44 L587.65,286.81 L588.00,287.69 L588.35,284.61 L588.70,287.93 L589.05,286.46 L589.40,290.50 L589.75,285.46 L590.10,290.54 L590.45,288.21 L590.80,281.91 L591.15,288.08 L591.50,284.52 L591.85,288.27 L592.20,285.38 L592.55,288.54 L592.90,291.05 L593.25,283.32 L593.60,289.49 L593.95,289.94 L594.30,286.56 L594.65,285.10 L595.00,284.28 L595.35,287.49 L595.70,285.05 L596.05,288.08 L596.40,285.26 L596.75,288.70 L597.10,287.92 L597.45,292.04 L597.80,283.88 L598.15,285.38 L598.50,284.86 L598.85,285.35 L599.20,283.28 L599.55,285.49 L599.90,286.96 L600.25,283.77 L600.60,285.41 L600.95,284.50 L601.30,286.07 L601.65,288.49 L602.00,282.23 L602.35,286.03 L602.70,287.62 L603.05,283.06 L603.40,282.40 L603.75,284.72 L604.10,283.84 L604.45,284.89 L604.80,280.38 L605.15,279.48 L605.50,281.38 L605.85,282.64 L606.20,278.15 L606.55,282.08 L606.90,277.55 L607.25,276.20 L607.60,276.82 L607.95,278.33 L608.30,272.69 L608.65,275.27 L609.00,271.96 L609.35,274.93 L609.70,275.93 L610.05,270.43 L610.40,270.58 L610.75,268.38 L611.10,269.07 L611.45,266.02 L611.80,271.46 L612.15,266.86 L612.50,267.08 L612.85,266.20 L613.20,267.49 L613.55,266.95 L613.90,262.34 L614.25,263.65 L614.60,264.57 L614.95,265.05 L615.30,258.47 L615.65,257.58 L616.00,256.57 L616.35,253.46 L616.70,254.66 L617.05,251.22 L617.40,248.91 L617.75,249.27 L618.10,245.43 L618.45,240.30 L618.80,242.96 L619.15,238.91 L619.50,235.91 L619.85,232.89 L620.20,232.16 L620.55,230.89 L620.90,228.68 L621.25,220.72 L621.60,220.95 L621.95,219.54 L622.30,210.47 L622.65,205.58 L623.00,200.41 L623.35,195.13 L623.70,188.32 L624.05,180.56 L624.40,178.35 L624.75,173.93 L625.10,171.89 L625.45,163.72 L625.80,161.04 L626.15,154.31 L626.50,150.21 L626.85,148.65 L627.20,145.85 L627.55,143.12 L627.90,136.57 L628.25,133.25 L628.60,134.95 L628.95,130.69 L629.30,125.91 L629.65,122.58 L630.00,117.14 L630.35,114.97 L630.70,108.57 L631.05,104.48 L631.40,103.23 L631.75,100.05 L632.10,99.52 L632.45,98.22 L632.80,97.01 L633.15,97.83 L633.50,92.70 L633.85,90.65 L634.20,92.04 L634.55,90.45 L634.90,92.41 L635.25,93.21 L635.60,96.18 L635.95,94.97 L636.30,98.05 L636.65,95.47 L637.00,103.21 L637.35,102.45 L637.70,104.62 L638.05,110.77 L638.40,115.35 L638.75,119.41 L639.10,121.68 L639.45,122.04 L639.80,124.46 L640.15,130.84 L640.50,133.49 L640.85,141.20 L641.20,142.06 L641.55,147.58 L641.90,148.66 L642.25,155.12 L642.60,154.96 L642.95,159.50 L643.30,165.06 L643.65,165.78 L644.00,171.32 L644.35,171.04 L644.70,174.36 L645.05,176.94 L645.40,179.12 L645.75,180.14 L646.10,183.85 L646.45,186.09 L646.80,187.38 L647.15,188.39 L647.50,189.14 L647.85,194.24 L648.20,193.58 L648.55,199.43 L648.90,200.60 L649.25,201.43 L649.60,204.00 L649.95,202.44 L650.30,204.90 L650.65,207.32 L651.00,209.20 L651.35,207.76 L651.70,209.62 L652.05,212.60 L652.40,210.95 L652.75,213.46 L653.10,211.28 L653.45,216.55 L653.80,214.84 L654.15,219.34 L654.50,214.80 L654.85,216.23 L655.20,219.41 L655.55,217.41 L655.90,220.34 L656.25,217.88 L656.60,220.92 L656.95,214.30 L657.30,215.55 L657.65,215.71 L658.00,210.92 L658.35,212.68 L658.70,213.73 L659.05,210.42 L659.40,210.35 L659.75,209.81 L660.10,209.77 L660.45,209.59 L660.80,205.60 L661.15,203.15 L661.50,198.77 L661.85,202.42 L662.20,200.02 L662.55,199.10 L662.90,196.73 L663.25,194.03 L663.60,192.97 L663.95,193.27 L664.30,190.55 L664.65,188.11 L665.00,189.17 L665.35,186.74 L665.70,190.21 L666.05,187.34 L666.40,184.27 L666.75,185.01 L667.10,183.76 L667.45,186.01 L667.80,187.88 L668.15,188.42 L668.50,191.65 L668.85,187.48 L669.20,191.08 L669.55,191.31 L669.90,189.74 L670.25,191.80 L670.60,195.97 L670.95,195.43 L671.30,194.77 L671.65,200.62 L672.00,199.52 L672.35,202.84 L672.70,200.65 L673.05,200.56 L673.40,203.26 L673.75,207.54 L674.10,207.27 L674.45,207.29 L674.80,210.76 L675.15,212.69 L675.50,212.85 L675.85,215.11 L676.20,215.33 L676.55,218.67 L676.90,218.35 L677.25,216.91 L677.60,221.61 L677.95,220.29 L678.30,222.41 L678.65,222.58 L679.00,223.20 L679.35,222.64 L679.70,223.16 L680.05,221.83 L680.40,220.88 L680.75,221.83 L681.10,219.69 L681.45,219.18 L681.80,220.44 L682.15,217.87 L682.50,219.32 L682.85,220.73 L683.20,218.91 L683.55,214.91 L683.90,215.65 L684.25,216.28 L684.60,213.45 L684.95,211.73 L685.30,216.10 L685.65,210.76 L686.00,212.84 L686.35,215.45 L686.70,212.42 L687.05,214.03 L687.40,215.61 L687.75,217.41 L688.10,214.96 L688.45,218.84 L688.80,215.03 L689.15,217.16 L689.50,214.34 L689.85,222.24 L690.20,220.96 L690.55,221.07 L690.90,222.66 L691.25,220.53 L691.60,222.89 L691.95,225.24 L692.30,223.36 L692.65,224.99 L693.00,226.92 L693.35,226.37 L693.70,230.55 L694.05,230.43 L694.40,233.15 L694.75,233.45 L695.10,235.37 L695.45,236.22 L695.80,233.17 L696.15,236.84 L696.50,238.50 L696.85,241.15 L697.20,241.09 L697.55,242.47 L697.90,244.16 L698.25,244.22 L698.60,246.90 L698.95,246.03 L699.30,246.45 L699.65,244.64 L700.00,249.41 L700.35,247.16 L700.70,243.16 L701.05,249.77 L701.40,246.41 L701.75,250.67 L702.10,249.75 L702.45,248.57 L702.80,251.30 L703.15,252.65 L703.50,254.43 L703.85,254.52 L704.20,252.38 L704.55,252.74 L704.90,251.44 L705.25,251.01 L705.60,252.48 L705.95,250.91 L706.30,251.76 L706.65,250.52 L707.00,250.06 L707.35,250.64 L707.70,251.15 L708.05,248.26 L708.40,248.24 L708.75,250.73 L709.10,245.78 L709.45,244.38 L709.80,248.50 L710.15,246.29 L710.50,240.95 L710.85,241.84 L711.20,241.65 L711.55,238.85 L711.90,238.08 L712.25,239.49 L712.60,236.45 L712.95,236.26 L713.30,231.83 L713.65,230.73 L714.00,229.41 L714.35,226.97 L714.70,221.71 L715.05,217.53 L715.40,219.49 L715.75,218.29 L716.10,211.40 L716.45,213.66 L716.80,207.49 L717.15,203.63 L717.50,200.74 L717.85,199.71 L718.20,200.39 L718.55,200.02 L718.90,194.09 L719.25,194.08 L719.60,189.68 L719.95,185.38 L720.30,187.03 L720.65,184.48 L721.00,180.05 L721.35,179.10 L721.70,178.76 L722.05,177.82 L722.40,176.72 L722.75,172.28 L723.10,172.95 L723.45,173.05 L723.80,174.43 L724.15,166.91 L724.50,171.81 L724.85,170.19 L725.20,168.77 L725.55,168.50 L725.90,166.98 L726.25,171.45 L726.60,172.95 L726.95,169.09 L727.30,172.66 L727.65,173.27 L728.00,173.01 L728.35,174.73 L728.70,175.41 L729.05,175.65 L729.40,179.17 L729.75,177.76 L730.10,181.29 L730.45,185.51 L730.80,187.21 L731.15,188.83 L731.50,192.93 L731.85,195.28 L732.20,195.48 L732.55,200.61 L732.90,200.06 L733.25,203.32 L733.60,210.08 L733.95,210.35 L734.30,215.36 L734.65,217.84 L735.00,216.85 L735.35,219.93 L735.70,226.34 L736.05,226.66 L736.40,228.30 L736.75,233.49 L737.10,235.44 L737.45,236.49 L737.80,240.98 L738.15,242.52 L738.50,243.84 L738.85,246.75 L739.20,249.22 L739.55,248.42 L739.90,250.40 L740.25,249.98 L740.60,252.48 L740.95,255.11 L741.30,257.68 L741.65,260.80 L742.00,260.34 L742.35,262.15 L742.70,266.94 L743.05,268.89 L743.40,265.88 L743.75,268.82 L744.10,272.46 L744.45,267.99 L744.80,272.63 L745.15,274.45 L745.50,275.54 L745.85,276.32 L746.20,274.63 L746.55,278.00 L746.90,280.72 L747.25,279.95 L747.60,279.29 L747.95,282.20 L748.30,278.67 L748.65,280.65 L749.00,283.59 L749.35,284.94 L749.70,283.98 L750.05,284.26 L750.40,287.14 L750.75,287.18 L751.10,286.47 L751.45,287.72 L751.80,286.99 L752.15,287.07 L752.50,289.67 L752.85,287.52 L753.20,287.50 L753.55,288.16 L753.90,288.43 L754.25,287.02 L754.60,288.65 L754.95,288.23 L755.30,289.08 L755.65,289.41 L756.00,285.58 L756.35,287.52 L756.70,289.74 L757.05,290.30 L757.40,288.72 L757.75,290.03 L758.10,288.42 L758.45,287.86 L758.80,289.31 L759.15,287.93 L759.50,288.21 L759.85,290.18 L760.20,287.23 L760.55,286.09 L760.90,290.55 L761.25,287.99 L761.60,288.89 L761.95,289.28 L762.30,288.20 L762.65,286.49 L763.00,286.81 L763.35,286.63 L763.70,289.88 L764.05,288.36 L764.40,289.67 L764.75,291.38 L765.10,290.60 L765.45,287.09 L765.80,285.75 L766.15,289.76 L766.50,288.07 L766.85,285.78 L767.20,287.21 L767.55,284.26 L767.90,288.79 L768.25,286.12 L768.60,289.78 L768.95,286.64 L769.30,289.54 L769.65,286.64 L770.00,288.77 L770.35,287.70 L770.70,288.17 L771.05,287.33 L771.40,289.25 L771.75,290.38 L772.10,287.28 L772.45,287.30 L772.80,288.08 L773.15,287.60 L773.50,288.86 L773.85,290.21 L774.20,289.86 L774.55,289.86 L774.90,291.37 L775.25,288.26 L775.60,287.74 L775.95,285.40 L776.30,286.35 L776.65,289.79 L777.00,286.38 L777.35,284.92 L777.70,288.34 L778.05,288.92 L778.40,285.18 L778.75,290.33 L779.10,290.19 L779.45,286.84 L779.80,288.90 L780.15,284.29 L780.50,290.22 L780.85,290.09 L781.20,291.79 L781.55,286.21 L781.90,290.24 L782.25,287.40 L782.60,288.26 L782.95,286.77 L783.30,288.06 L783.65,287.45 L784.00,286.06 L784.35,288.64 L784.70,287.35 L785.05,290.65 L785.40,286.48 L785.75,291.19 L786.10,288.81 L786.45,290.12 L786.80,286.63 L787.15,290.89 L787.50,289.49 L787.85,289.85 L788.20,287.43 L788.55,287.93 L788.90,285.39 L789.25,283.47 L789.60,288.31 L789.95,287.61 L790.30,288.50 L790.65,288.74 L791.00,284.74 L791.35,283.76 L791.70,288.64 L792.05,285.85 L792.40,287.15 L792.75,289.35 L793.10,288.39 L793.45,287.86 L793.80,285.23 L794.15,284.98 L794.50,284.62 L794.85,286.07 L795.20,284.10 L795.55,284.13 L795.90,282.24 L796.25,284.23 L796.60,285.95 L796.95,285.86 L797.30,284.46 L797.65,285.51 L798.00,284.73 L798.35,287.76 L798.70,284.53 L799.05,281.93 L799.40,286.59 L799.75,283.11 L800.10,284.01 L800.45,285.81 L800.80,281.90 L801.15,281.73 L801.50,284.91 L801.85,283.85 L802.20,280.95 L802.55,279.09 L802.90,280.82 L803.25,281.10 L803.60,279.51 L803.95,280.74 L804.30,279.79 L804.65,278.35 L805.00,278.83 L805.35,277.34 L805.70,277.83 L806.05,276.18 L806.40,275.17 L806.75,278.08 L807.10,276.59 L807.45,274.60 L807.80,273.42 L808.15,277.54 L808.50,278.29 L808.85,275.01 L809.20,275.46 L809.55,274.03 L809.90,273.88 L810.25,278.02 L810.60,277.72 L810.95,272.32 L811.30,274.68 L811.65,271.34 L812.00,273.27 L812.35,277.12 L812.70,272.13 L813.05,273.57 L813.40,272.24 L813.75,275.29 L814.10,272.80 L814.45,274.59 L814.80,275.16 L815.15,274.55 L815.50,270.90 L815.85,270.87 L816.20,274.45 L816.55,273.03 L816.90,274.62 L817.25,272.57 L817.60,272.34 L817.95,270.09 L818.30,274.31 L818.65,273.02 L819.00,278.15 L819.35,276.02 L819.70,274.52 L820.05,277.74 L820.40,275.93 L820.75,272.05 L821.10,275.71 L821.45,277.55 L821.80,276.69 L822.15,276.23 L822.50,276.34 L822.85,276.05 L823.20,275.36 L823.55,279.56 L823.90,279.53 L824.25,277.23 L824.60,281.08 L824.95,277.56 L825.30,277.24 L825.65,278.60 L826.00,278.25 L826.35,279.47 L826.70,279.05 L827.05,280.97 L827.40,283.83 L827.75,284.90 L828.10,283.11 L828.45,278.46 L828.80,283.29 L829.15,282.37 L829.50,286.35 L829.85,283.87 L830.20,285.87 L830.55,284.42 L830.90,283.34 L831.25,286.66 L831.60,285.83 L831.95,284.09 L832.30,288.06 L832.65,288.90 L833.00,287.61 L833.35,289.90" stroke="#f00000" stroke-width="1.3" fill="none" stroke-linejoin="round"/>
<path d="M527.80,282.43 L528.15,284.24 L528.50,287.66 L528.85,283.18 L529.20,281.09 L529.55,279.05 L529.90,282.19 L530.25,282.03 L530.60,285.29 L530.95,280.11 L531.30,287.22 L531.65,285.52 L532.00,281.43 L532.35,284.43 L532.70,287.11 L533.05,279.87 L533.40,285.60 L533.75,284.64 L534.10,282.32 L534.45,279.45 L534.80,281.69 L535.15,278.76 L535.50,286.61 L535.85,281.01 L536.20,286.45 L536.55,283.37 L536.90,280.99 L537.25,286.40 L537.60,285.52 L537.95,284.88 L538.30,284.26 L538.65,284.10 L539.00,277.89 L539.35,282.16 L539.70,278.33 L540.05,285.57 L540.40,280.56 L540.75,284.49 L541.10,285.75 L541.45,278.49 L541.80,285.23 L542.15,283.74 L542.50,281.42 L542.85,282.71 L543.20,281.80 L543.55,284.11 L543.90,280.07 L544.25,282.28 L544.60,278.40 L544.95,284.14 L545.30,282.03 L545.65,285.43 L546.00,282.99 L546.35,285.50 L546.70,283.25 L547.05,277.60 L547.40,281.14 L547.75,286.95 L548.10,279.38 L548.45,283.76 L548.80,283.29 L549.15,275.07 L549.50,281.26 L549.85,276.82 L550.20,283.04 L550.55,281.35 L550.90,282.14 L551.25,279.02 L551.60,284.08 L551.95,280.92 L552.30,284.63 L552.65,283.36 L553.00,276.17 L553.35,276.96 L553.70,279.02 L554.05,277.15 L554.40,277.30 L554.75,279.37 L555.10,284.05 L555.45,284.74 L555.80,278.63 L556.15,279.56 L556.50,279.12 L556.85,285.73 L557.20,277.53 L557.55,283.03 L557.90,280.03 L558.25,285.60 L558.60,279.28 L558.95,280.26 L559.30,275.69 L559.65,278.80 L560.00,287.22 L560.35,284.82 L560.70,276.57 L561.05,282.70 L561.40,278.05 L561.75,278.87 L562.10,282.50 L562.45,275.79 L562.80,282.99 L563.15,281.72 L563.50,277.37 L563.85,284.22 L564.20,283.88 L564.55,278.07 L564.90,278.63 L565.25,286.46 L565.60,276.96 L565.95,283.26 L566.30,279.24 L566.65,280.91 L567.00,284.56 L567.35,281.50 L567.70,282.18 L568.05,285.38 L568.40,278.52 L568.75,284.55 L569.10,280.95 L569.45,286.76 L569.80,284.35 L570.15,279.34 L570.50,286.48 L570.85,280.88 L571.20,284.85 L571.55,280.30 L571.90,288.31 L572.25,280.98 L572.60,278.65 L572.95,281.60 L573.30,290.03 L573.65,283.98 L574.00,283.56 L574.35,286.73 L574.70,285.54 L575.05,288.54 L575.40,284.54 L575.75,284.38 L576.10,287.73 L576.45,284.12 L576.80,285.34 L577.15,286.22 L577.50,288.63 L577.85,282.78 L578.20,283.41 L578.55,289.20 L578.90,286.71 L579.25,285.03 L579.60,286.27 L579.95,289.92 L580.30,290.46 L580.65,285.35 L581.00,283.68 L581.35,285.16 L581.70,282.53 L582.05,291.73 L582.40,284.82 L582.75,286.01 L583.10,285.80 L583.45,283.24 L583.80,286.38 L584.15,285.01 L584.50,282.25 L584.85,284.69 L585.20,284.58 L585.55,289.19 L585.90,289.31 L586.25,285.80 L586.60,284.45 L586.95,285.71 L587.30,284.33 L587.65,286.39 L588.00,289.99 L588.35,285.85 L588.70,287.05 L589.05,283.22 L589.40,287.83 L589.75,289.02 L590.10,290.07 L590.45,283.52 L590.80,288.41 L591.15,283.16 L591.50,289.61 L591.85,290.04 L592.20,282.70 L592.55,285.88 L592.90,287.77 L593.25,288.02 L593.60,285.21 L593.95,284.60 L594.30,285.79 L594.65,284.18 L595.00,289.00 L595.35,288.66 L595.70,287.75 L596.05,284.99 L596.40,285.72 L596.75,285.99 L597.10,286.47 L597.45,286.15 L597.80,285.91 L598.15,286.36 L598.50,290.78 L598.85,285.04 L599.20,284.21 L599.55,286.25 L599.90,284.78 L600.25,284.33 L600.60,289.94 L600.95,287.80 L601.30,286.82 L601.65,287.17 L602.00,283.77 L602.35,279.46 L602.70,283.24 L603.05,283.33 L603.40,281.16 L603.75,284.75 L604.10,281.04 L604.45,278.69 L604.80,283.22 L605.15,279.47 L605.50,280.89 L605.85,281.96 L606.20,280.10 L606.55,278.86 L606.90,279.34 L607.25,276.73 L607.60,278.11 L607.95,273.00 L608.30,275.53 L608.65,272.63 L609.00,272.51 L609.35,274.72 L609.70,276.69 L610.05,273.70 L610.40,271.58 L610.75,267.37 L611.10,271.24 L611.45,271.78 L611.80,266.93 L612.15,270.29 L612.50,268.79 L612.85,267.20 L613.20,264.80 L613.55,266.70 L613.90,263.00 L614.25,262.30 L614.60,261.82 L614.95,263.18 L615.30,258.41 L615.65,257.49 L616.00,253.33 L616.35,252.02 L616.70,255.48" stroke="#f00000" stroke-width="1.3" fill="none" stroke-linejoin="round"/>
<path d="M527.80,281.74 L528.50,282.36 L529.20,282.39 L529.90,282.80 L530.60,281.07 L531.30,281.42 L532.00,281.07 L532.70,280.82 L533.40,280.23 L534.10,280.64 L534.80,280.36 L535.50,280.14 L536.20,279.88 L536.90,279.48 L537.60,277.91 L538.30,279.29 L539.00,280.05 L539.70,277.50 L540.40,280.06 L541.10,278.04 L541.80,278.16 L542.50,279.58 L543.20,278.70 L543.90,278.22 L544.60,277.60 L545.30,277.91 L546.00,279.19 L546.70,278.55 L547.40,278.40 L548.10,277.23 L548.80,278.32 L549.50,276.98 L550.20,278.66 L550.90,278.13 L551.60,278.53 L552.30,278.77 L553.00,276.45 L553.70,278.04 L554.40,277.88 L555.10,277.96 L555.80,277.65 L556.50,278.68 L557.20,277.86 L557.90,278.87 L558.60,278.11 L559.30,278.04 L560.00,278.11 L560.70,278.02 L561.40,279.04 L562.10,279.74 L562.80,280.03 L563.50,279.39 L564.20,279.20 L564.90,281.40 L565.60,279.85 L566.30,280.96 L567.00,281.47 L567.70,280.30 L568.40,280.75 L569.10,280.94 L569.80,280.83 L570.50,280.78 L571.20,281.81 L571.90,282.54 L572.60,283.33 L573.30,281.80 L574.00,282.05 L574.70,281.85 L575.40,281.40 L576.10,283.43 L576.80,282.95 L577.50,283.96 L578.20,283.93 L578.90,283.56 L579.60,283.57 L580.30,283.24 L581.00,284.27 L581.70,284.72 L582.40,284.44 L583.10,283.18 L583.80,285.47 L584.50,283.76 L585.20,285.23 L585.90,284.80 L586.60,284.70 L587.30,285.76 L588.00,286.03 L588.70,285.16 L589.40,286.17 L590.10,285.92 L590.80,284.67 L591.50,285.94 L592.20,285.21 L592.90,283.85 L593.60,284.80 L594.30,285.35 L595.00,283.58 L595.70,285.16 L596.40,285.10 L597.10,285.10 L597.80,284.56 L598.50,284.72 L599.20,284.07 L599.90,283.21 L600.60,283.18 L601.30,282.96 L602.00,281.77 L602.70,282.79 L603.40,280.98 L604.10,281.78 L604.80,280.65 L605.50,279.25 L606.20,278.61 L606.90,276.43 L607.60,275.47 L608.30,275.93 L609.00,273.15 L609.70,271.60 L610.40,269.95 L611.10,269.26 L611.80,267.08 L612.50,266.63 L613.20,263.34 L613.90,262.58 L614.60,258.92 L615.30,256.72 L616.00,253.15 L616.70,250.24 L617.40,246.92 L618.10,241.52 L618.80,238.29 L619.50,234.96 L620.20,232.24 L620.90,226.66 L621.60,219.47 L622.30,210.80 L623.00,200.89 L623.70,188.11 L624.40,175.31 L625.10,166.14 L625.80,155.32 L626.50,147.64 L627.20,138.17 L627.90,130.08 L628.60,119.66 L629.30,109.99 L630.00,99.28 L630.70,90.35 L631.40,80.23 L632.10,73.88 L632.80,67.43 L633.50,65.50 L634.20,62.18 L634.90,63.94 L635.60,66.46 L636.30,69.55 L637.00,73.42 L637.70,79.23 L638.40,88.54 L639.10,102.49 L639.80,122.54 L640.50,133.82 L641.20,141.49 L641.90,148.43 L642.60,156.74 L643.30,162.48 L644.00,167.93 L644.70,173.05 L645.40,178.56 L646.10,183.24 L646.80,185.99 L647.50,189.85 L648.20,193.85 L648.90,195.88 L649.60,199.45 L650.30,203.05 L651.00,204.15 L651.70,206.19 L652.40,207.57 L653.10,210.37 L653.80,210.92 L654.50,211.06 L655.20,210.39 L655.90,208.88 L656.60,209.41 L657.30,205.83 L658.00,203.67 L658.70,201.00 L659.40,200.81 L660.10,197.55 L660.80,193.86 L661.50,193.30 L662.20,188.03 L662.90,183.42 L663.60,179.09 L664.30,177.41 L665.00,173.10 L665.70,170.85 L666.40,168.95 L667.10,167.92 L667.80,170.08 L668.50,170.67 L669.20,172.70 L669.90,177.55 L670.60,177.57 L671.30,182.08 L672.00,185.37 L672.70,186.05 L673.40,190.87 L674.10,194.93 L674.80,197.88 L675.50,200.76 L676.20,203.62 L676.90,205.52 L677.60,206.03 L678.30,205.75 L679.00,206.34 L679.70,205.41 L680.40,204.95 L681.10,203.87 L681.80,202.88 L682.50,202.39 L683.20,201.85 L683.90,201.51 L684.60,199.35 L685.30,197.21 L686.00,195.84 L686.70,192.97 L687.40,194.47 L688.10,194.48 L688.80,194.99 L689.50,197.55 L690.20,199.11 L690.90,200.87 L691.60,203.35 L692.30,204.69 L693.00,207.41 L693.70,210.56 L694.40,214.46 L695.10,219.10 L695.80,220.30 L696.50,223.60 L697.20,227.60 L697.90,230.74 L698.60,232.11 L699.30,233.96 L700.00,235.94 L700.70,238.31 L701.40,240.02 L702.10,241.16 L702.80,241.87 L703.50,243.44 L704.20,244.00 L704.90,244.99 L705.60,244.92 L706.30,243.83 L707.00,242.76 L707.70,242.07 L708.40,241.44 L709.10,237.11 L709.80,235.72 L710.50,233.67 L711.20,231.11 L711.90,228.11 L712.60,226.07 L713.30,221.99 L714.00,218.47 L714.70,212.32 L715.40,207.54 L716.10,203.91 L716.80,197.36 L717.50,190.36 L718.20,184.99 L718.90,179.01 L719.60,171.18 L720.30,164.62 L721.00,156.74 L721.70,150.52 L722.40,148.63 L723.10,148.05 L723.80,144.28 L724.50,143.50 L725.20,140.98 L725.90,140.81 L726.60,142.71 L727.30,145.07 L728.00,147.72 L728.70,149.44 L729.40,152.42 L730.10,156.42 L730.80,165.36 L731.50,171.65 L732.20,181.46 L732.90,189.20 L733.60,195.60 L734.30,201.80 L735.00,207.93 L735.70,214.03 L736.40,218.44 L737.10,223.80 L737.80,228.38 L738.50,234.29 L739.20,240.85 L739.90,244.50 L740.60,248.92 L741.30,253.38 L742.00,258.32 L742.70,261.81 L743.40,263.92 L744.10,265.45 L744.80,269.80 L745.50,271.23 L746.20,273.98 L746.90,277.37 L747.60,278.12 L748.30,278.00 L749.00,280.97 L749.70,281.27 L750.40,282.34 L751.10,283.82 L751.80,284.88 L752.50,285.49 L753.20,285.88 L753.90,286.11 L754.60,287.14 L755.30,288.13 L756.00,286.59 L756.70,287.15 L757.40,287.00 L758.10,287.40 L758.80,286.75 L759.50,287.10 L760.20,285.65 L760.90,286.43 L761.60,285.17 L762.30,285.07 L763.00,285.65 L763.70,285.17 L764.40,284.54 L765.10,286.16 L765.80,285.00 L766.50,283.94 L767.20,285.56 L767.90,284.67 L768.60,284.26 L769.30,284.60 L770.00,285.11 L770.70,284.55 L771.40,284.73 L772.10,285.38 L772.80,284.40 L773.50,284.93 L774.20,285.61 L774.90,284.76 L775.60,285.27 L776.30,285.62 L777.00,286.29 L777.70,287.69 L778.40,286.32 L779.10,286.37 L779.80,288.25 L780.50,286.98 L781.20,287.06 L781.90,287.05 L782.60,287.83 L783.30,286.47 L784.00,286.02 L784.70,286.68 L785.40,287.47 L786.10,286.77 L786.80,286.13 L787.50,286.68 L788.20,287.39 L788.90,286.18 L789.60,285.58 L790.30,285.17 L791.00,285.83 L791.70,285.21 L792.40,285.77 L793.10,285.48 L793.80,286.24 L794.50,285.59 L795.20,284.82 L795.90,283.76 L796.60,284.47 L797.30,284.17 L798.00,283.96 L798.70,282.45 L799.40,284.56 L800.10,282.63 L800.80,281.75 L801.50,281.87 L802.20,279.92 L802.90,279.70 L803.60,278.33 L804.30,278.62 L805.00,277.03 L805.70,276.44 L806.40,275.38 L807.10,275.31 L807.80,273.22 L808.50,274.59 L809.20,271.44 L809.90,271.50 L810.60,270.58 L811.30,270.84 L812.00,269.58 L812.70,269.56 L813.40,267.89 L814.10,267.82 L814.80,267.22 L815.50,267.45 L816.20,267.60 L816.90,267.27 L817.60,267.94 L818.30,269.26 L819.00,268.35 L819.70,270.29 L820.40,269.81 L821.10,271.75 L821.80,272.92 L822.50,272.89 L823.20,273.42 L823.90,274.78 L824.60,276.13 L825.30,276.73 L826.00,277.74 L826.70,278.53 L827.40,279.54 L828.10,280.59 L828.80,280.93 L829.50,281.98 L830.20,282.62 L830.90,285.96 L831.60,285.49 L832.30,287.23 L833.00,288.27" stroke="#0000f0" stroke-width="2.5" fill="none" stroke-linejoin="round"/>
<path d="M527.80,283.35 L528.15,279.91 L528.50,278.85 L528.85,283.18 L529.20,281.75 L529.55,285.94 L529.90,286.31 L530.25,286.83 L530.60,278.80 L530.95,282.15 L531.30,283.35 L531.65,278.45 L532.00,284.20 L532.35,278.05 L532.70,276.25 L533.05,282.71 L533.40,280.55 L533.75,276.97 L534.10,279.73 L534.45,279.09 L534.80,277.90 L535.15,276.34 L535.50,274.08 L535.85,278.81 L536.20,280.58 L536.55,279.51 L536.90,280.62 L537.25,276.66 L537.60,282.32 L537.95,283.01 L538.30,280.08 L538.65,278.53 L539.00,274.12 L539.35,280.90 L539.70,284.43 L540.05,277.21 L540.40,279.86 L540.75,272.04 L541.10,278.73 L541.45,280.47 L541.80,279.35 L542.15,275.27 L542.50,284.94 L542.85,278.38 L543.20,282.29 L543.55,283.36 L543.90,279.39 L544.25,280.82 L544.60,273.32 L544.95,279.60 L545.30,277.82 L545.65,281.79 L546.00,282.62 L546.35,275.36 L546.70,281.47 L547.05,282.29 L547.40,276.43 L547.75,278.80 L548.10,280.68 L548.45,278.43 L548.80,280.58 L549.15,273.97 L549.50,273.32 L549.85,278.49 L550.20,276.38 L550.55,281.31 L550.90,280.46 L551.25,277.38 L551.60,277.46 L551.95,279.34 L552.30,277.58 L552.65,283.87 L553.00,277.48 L553.35,277.21 L553.70,281.17 L554.05,280.35 L554.40,282.97 L554.75,279.05 L555.10,277.44 L555.45,278.74 L555.80,276.68 L556.15,278.13 L556.50,282.05 L556.85,282.80 L557.20,281.07 L557.55,276.40 L557.90,282.83 L558.25,277.67 L558.60,280.24 L558.95,280.64 L559.30,274.83 L559.65,278.04 L560.00,274.95 L560.35,276.86 L560.70,277.12 L561.05,274.86 L561.40,279.41 L561.75,279.00 L562.10,278.92 L562.45,281.76 L562.80,275.61 L563.15,277.71 L563.50,281.40 L563.85,280.79 L564.20,279.62 L564.55,283.45 L564.90,281.88 L565.25,280.83 L565.60,279.45 L565.95,278.31 L566.30,276.27 L566.65,280.53 L567.00,280.12 L567.35,283.94 L567.70,278.99 L568.05,280.95 L568.40,278.47 L568.75,281.85 L569.10,277.43 L569.45,282.71 L569.80,287.34 L570.15,276.79 L570.50,281.67 L570.85,280.44 L571.20,283.68 L571.55,278.69 L571.90,285.57 L572.25,280.80 L572.60,277.51 L572.95,278.97 L573.30,283.62 L573.65,279.45 L574.00,281.95 L574.35,283.49 L574.70,278.26 L575.05,283.50 L575.40,282.21 L575.75,280.40 L576.10,287.26 L576.45,280.56 L576.80,286.14 L577.15,284.20 L577.50,281.41 L577.85,278.52 L578.20,285.30 L578.55,285.42 L578.90,280.66 L579.25,284.28 L579.60,279.95 L579.95,283.45 L580.30,282.68 L580.65,285.73 L581.00,281.89 L581.35,284.48 L581.70,287.02 L582.05,282.19 L582.40,280.88 L582.75,285.40 L583.10,280.15 L583.45,287.56 L583.80,287.76 L584.15,280.30 L584.50,285.18 L584.85,289.57 L585.20,280.20 L585.55,290.27 L585.90,288.17 L586.25,281.27 L586.60,284.22 L586.95,288.88 L587.30,282.67 L587.65,282.53 L588.00,280.65 L588.35,282.88 L588.70,282.76 L589.05,286.75 L589.40,279.27 L589.75,280.30 L590.10,286.29 L590.45,282.16 L590.80,288.12 L591.15,283.85 L591.50,282.31 L591.85,284.24 L592.20,283.89 L592.55,288.91 L592.90,284.43 L593.25,283.87 L593.60,286.62 L593.95,284.35 L594.30,288.52 L594.65,289.48 L595.00,281.96 L595.35,285.17 L595.70,286.02 L596.05,282.79 L596.40,286.06 L596.75,288.55 L597.10,279.49 L597.45,285.83 L597.80,282.77 L598.15,284.75 L598.50,283.56 L598.85,283.35 L599.20,283.73 L599.55,284.31 L599.90,283.28 L600.25,284.27 L600.60,284.95 L600.95,286.12 L601.30,282.05 L601.65,285.17 L602.00,279.98 L602.35,282.50 L602.70,281.06 L603.05,281.17 L603.40,279.10 L603.75,277.77 L604.10,278.99 L604.45,280.19 L604.80,279.80 L605.15,282.12 L605.50,278.98 L605.85,279.52 L606.20,276.99 L606.55,280.11 L606.90,274.97 L607.25,272.98 L607.60,274.24 L607.95,277.50 L608.30,274.07 L608.65,275.42 L609.00,271.20 L609.35,269.72 L609.70,272.49 L610.05,271.26 L610.40,269.80 L610.75,268.16 L611.10,268.12 L611.45,266.61 L611.80,264.90 L612.15,264.99 L612.50,266.04 L612.85,266.28 L613.20,260.13 L613.55,264.68 L613.90,260.82 L614.25,259.00 L614.60,258.52 L614.95,257.33 L615.30,258.70 L615.65,256.98 L616.00,251.98 L616.35,253.93 L616.70,246.14 L617.05,246.65 L617.40,249.47 L617.75,247.10 L618.10,240.11 L618.45,237.74 L618.80,237.47 L619.15,236.91 L619.50,234.84 L619.85,233.63 L620.20,234.29 L620.55,227.59 L620.90,225.21 L621.25,225.70 L621.60,219.82 L621.95,215.96 L622.30,211.27 L622.65,205.59 L623.00,200.12 L623.35,195.80 L623.70,188.91 L624.05,181.62 L624.40,178.95 L624.75,171.88 L625.10,163.37 L625.45,160.16 L625.80,155.27 L626.15,150.40 L626.50,148.00 L626.85,141.26 L627.20,136.42 L627.55,132.91 L627.90,130.25 L628.25,123.16 L628.60,120.70 L628.95,114.49 L629.30,111.06 L629.65,106.12 L630.00,97.92 L630.35,94.80 L630.70,90.26 L631.05,84.33 L631.40,81.62 L631.75,76.75 L632.10,73.35 L632.45,70.66 L632.80,70.04 L633.15,66.44 L633.50,63.30 L633.85,66.62 L634.20,62.63 L634.55,64.52 L634.90,66.44 L635.25,63.68 L635.60,67.20 L635.95,67.15 L636.30,66.95 L636.65,71.30 L637.00,74.66 L637.35,78.26 L637.70,80.77 L638.05,86.26 L638.40,90.01 L638.75,91.24 L639.10,100.96 L639.45,110.33 L639.80,120.60 L640.15,125.18 L640.50,131.28 L640.85,138.69 L641.20,141.17 L641.55,145.00 L641.90,148.85 L642.25,153.25 L642.60,155.49 L642.95,158.26 L643.30,161.91 L643.65,166.39 L644.00,164.89 L644.35,169.48 L644.70,171.83 L645.05,174.81 L645.40,177.44 L645.75,182.69 L646.10,181.22 L646.45,181.53 L646.80,188.93 L647.15,185.79 L647.50,189.87 L647.85,193.38 L648.20,195.68 L648.55,193.92 L648.90,196.24 L649.25,196.43 L649.60,200.27 L649.95,199.02 L650.30,201.77 L650.65,204.32 L651.00,203.24 L651.35,207.21 L651.70,203.43 L652.05,205.88 L652.40,205.34 L652.75,206.63 L653.10,206.45 L653.45,211.83 L653.80,208.44 L654.15,211.47 L654.50,213.00 L654.85,208.53 L655.20,209.28 L655.55,213.08 L655.90,209.35 L656.25,209.41 L656.60,205.32 L656.95,205.95 L657.30,208.70 L657.65,205.16 L658.00,199.76 L658.35,205.15 L658.70,200.67 L659.05,200.88 L659.40,201.04 L659.75,199.75 L660.10,194.74 L660.45,195.94 L660.80,192.12 L661.15,190.03 L661.50,195.93 L661.85,191.88 L662.20,185.50 L662.55,184.86 L662.90,182.50 L663.25,177.42 L663.60,181.45 L663.95,176.04 L664.30,173.10 L664.65,176.21 L665.00,171.98 L665.35,174.19 L665.70,166.16 L666.05,168.55 L666.40,171.11 L666.75,167.78 L667.10,173.37 L667.45,165.79 L667.80,170.45 L668.15,170.57 L668.50,170.75 L668.85,173.20 L669.20,172.95 L669.55,174.98 L669.90,176.86 L670.25,178.99 L670.60,180.91 L670.95,180.70 L671.30,181.32 L671.65,182.43 L672.00,187.60 L672.35,185.88 L672.70,185.59 L673.05,190.67 L673.40,189.33 L673.75,190.87 L674.10,192.21 L674.45,197.41 L674.80,195.46 L675.15,197.76 L675.50,198.79 L675.85,198.04 L676.20,202.02 L676.55,204.54 L676.90,204.79 L677.25,203.95 L677.60,206.40 L677.95,210.01 L678.30,203.45 L678.65,207.97 L679.00,206.91 L679.35,207.21 L679.70,206.22 L680.05,207.33 L680.40,202.65 L680.75,204.24 L681.10,204.10 L681.45,205.73 L681.80,202.14 L682.15,203.54 L682.50,204.10 L682.85,202.59 L683.20,202.26 L683.55,200.75 L683.90,199.02 L684.25,197.96 L684.60,200.38 L684.95,200.41 L685.30,198.89 L685.65,198.38 L686.00,192.87 L686.35,193.23 L686.70,191.50 L687.05,194.01 L687.40,191.92 L687.75,193.26 L688.10,195.13 L688.45,193.01 L688.80,197.96 L689.15,195.09 L689.50,199.44 L689.85,197.97 L690.20,200.10 L690.55,201.63 L690.90,199.48 L691.25,202.29 L691.60,204.98 L691.95,205.11 L692.30,205.10 L692.65,203.45 L693.00,207.50 L693.35,210.47 L693.70,208.41 L694.05,211.76 L694.40,215.68 L694.75,212.46 L695.10,216.98 L695.45,218.38 L695.80,224.22 L696.15,222.82 L696.50,222.73 L696.85,227.67 L697.20,226.90 L697.55,228.01 L697.90,231.07 L698.25,233.85 L698.60,229.39 L698.95,234.02 L699.30,236.50 L699.65,237.87 L700.00,236.57 L700.35,237.20 L700.70,236.32 L701.05,237.61 L701.40,240.76 L701.75,239.76 L702.10,242.84 L702.45,242.01 L702.80,243.21 L703.15,241.75 L703.50,243.14 L703.85,245.43 L704.20,242.59 L704.55,244.57 L704.90,242.79 L705.25,244.43 L705.60,244.34 L705.95,243.22 L706.30,243.27 L706.65,244.24 L707.00,245.95 L707.35,243.44 L707.70,244.19 L708.05,238.91 L708.40,238.59 L708.75,241.18 L709.10,237.47 L709.45,234.75 L709.80,232.55 L710.15,233.47 L710.50,235.32 L710.85,230.88 L711.20,231.73 L711.55,229.58 L711.90,226.26 L712.25,227.77 L712.60,224.60 L712.95,223.32 L713.30,223.48 L713.65,219.14 L714.00,221.61 L714.35,215.51 L714.70,215.58 L715.05,212.25 L715.40,208.83 L715.75,204.31 L716.10,202.43 L716.45,200.30 L716.80,197.47 L717.15,193.65 L717.50,190.03 L717.85,186.10 L718.20,184.44 L718.55,182.74 L718.90,179.53 L719.25,172.31 L719.60,170.95 L719.95,170.08 L720.30,161.48 L720.65,161.19 L721.00,153.31 L721.35,151.47 L721.70,154.45 L722.05,151.13 L722.40,151.75 L722.75,146.42 L723.10,147.68 L723.45,144.73 L723.80,143.65 L724.15,142.13 L724.50,142.05 L724.85,142.19 L725.20,144.58 L725.55,140.79 L725.90,140.89 L726.25,144.59 L726.60,146.49 L726.95,145.54 L727.30,141.51 L727.65,147.57 L728.00,144.32 L728.35,150.50 L728.70,151.40 L729.05,152.55 L729.40,153.57 L729.75,153.48 L730.10,156.90 L730.45,162.50 L730.80,167.46 L731.15,167.83 L731.50,175.45 L731.85,176.53 L732.20,184.19 L732.55,185.68 L732.90,190.87 L733.25,190.92 L733.60,193.96 L733.95,200.71 L734.30,199.66 L734.65,203.06 L735.00,206.85 L735.35,208.71 L735.70,212.74 L736.05,216.11 L736.40,218.51 L736.75,222.84 L737.10,225.21 L737.45,227.92 L737.80,227.67 L738.15,231.97 L738.50,234.66 L738.85,238.61 L739.20,239.55 L739.55,240.82 L739.90,243.76 L740.25,244.01 L740.60,247.68 L740.95,251.07 L741.30,251.79 L741.65,256.51 L742.00,258.28 L742.35,260.62 L742.70,260.42 L743.05,263.54 L743.40,262.19 L743.75,266.78 L744.10,267.68 L744.45,268.89 L744.80,265.37 L745.15,272.20 L745.50,273.34 L745.85,275.77 L746.20,274.58 L746.55,272.04 L746.90,278.27 L747.25,277.52 L747.60,279.05 L747.95,279.95 L748.30,277.30 L748.65,279.62 L749.00,279.73 L749.35,279.51 L749.70,280.67 L750.05,281.47 L750.40,281.70 L750.75,282.30 L751.10,280.66 L751.45,285.25 L751.80,285.61 L752.15,284.76 L752.50,283.63 L752.85,287.44 L753.20,285.16 L753.55,285.03 L753.90,288.19 L754.25,286.87 L754.60,287.06 L754.95,285.26 L755.30,289.61 L755.65,285.48 L756.00,287.92 L756.35,285.71 L756.70,286.91 L757.05,289.92 L757.40,286.77 L757.75,287.21 L758.10,285.22 L758.45,286.36 L758.80,284.28 L759.15,282.21 L759.50,283.61 L759.85,286.27 L760.20,287.46 L760.55,284.21 L760.90,284.67 L761.25,287.35 L761.60,287.00 L761.95,286.45 L762.30,284.13 L762.65,285.45 L763.00,286.71 L763.35,287.35 L763.70,286.25 L764.05,287.28 L764.40,288.33 L764.75,285.89 L765.10,285.12 L765.45,286.54 L765.80,282.44 L766.15,287.16 L766.50,284.62 L766.85,287.69 L767.20,288.23 L767.55,282.77 L767.90,284.09 L768.25,285.71 L768.60,282.69 L768.95,284.89 L769.30,287.03 L769.65,283.41 L770.00,284.46 L770.35,283.42 L770.70,283.19 L771.05,284.81 L771.40,283.83 L771.75,283.97 L772.10,287.67 L772.45,287.22 L772.80,283.60 L773.15,284.03 L773.50,286.98 L773.85,281.35 L774.20,286.06 L774.55,286.52 L774.90,281.74 L775.25,287.83 L775.60,284.75 L775.95,284.53 L776.30,284.70 L776.65,285.04 L777.00,285.88 L777.35,282.32 L777.70,288.20 L778.05,282.56 L778.40,285.55 L778.75,286.64 L779.10,289.20 L779.45,287.35 L779.80,284.74 L780.15,285.75 L780.50,290.37 L780.85,288.69 L781.20,287.81 L781.55,288.90 L781.90,284.71 L782.25,287.46 L782.60,283.92 L782.95,286.68 L783.30,289.35 L783.65,284.75 L784.00,289.90 L784.35,287.42 L784.70,289.35 L785.05,286.22 L785.40,286.89 L785.75,286.75 L786.10,286.76 L786.45,288.61 L786.80,286.14 L787.15,286.83 L787.50,290.27 L787.85,284.72 L788.20,286.40 L788.55,285.54 L788.90,286.69 L789.25,285.77 L789.60,283.71 L789.95,284.45 L790.30,288.04 L790.65,287.48 L791.00,285.48 L791.35,286.72 L791.70,287.05 L792.05,285.61 L792.40,287.06 L792.75,283.10 L793.10,287.15 L793.45,287.29 L793.80,285.28 L794.15,284.42 L794.50,284.53 L794.85,285.76 L795.20,285.60 L795.55,282.78 L795.90,281.90 L796.25,286.20 L796.60,284.00 L796.95,284.12 L797.30,281.16 L797.65,284.01 L798.00,285.91 L798.35,283.80 L798.70,283.80 L799.05,286.23 L799.40,283.39 L799.75,281.14 L800.10,282.13 L800.45,282.76 L800.80,282.46 L801.15,281.21 L801.50,282.08 L801.85,280.80 L802.20,278.91 L802.55,279.15 L802.90,278.21 L803.25,278.74 L803.60,275.87 L803.95,279.67 L804.30,275.94 L804.65,274.08 L805.00,279.86 L805.35,279.48 L805.70,274.76 L806.05,277.82 L806.40,276.67 L806.75,273.46 L807.10,272.98 L807.45,272.68 L807.80,277.66 L808.15,274.50 L808.50,272.88 L808.85,270.45 L809.20,275.14 L809.55,274.37 L809.90,272.45 L810.25,268.38 L810.60,272.41 L810.95,267.65 L811.30,273.30 L811.65,268.80 L812.00,269.20 L812.35,269.62 L812.70,269.83 L813.05,270.19 L813.40,269.47 L813.75,269.22 L814.10,270.52 L814.45,266.72 L814.80,267.43 L815.15,267.96 L815.50,264.37 L815.85,266.57 L816.20,268.44 L816.55,267.34 L816.90,269.80 L817.25,268.18 L817.60,265.12 L817.95,268.91 L818.30,271.64 L818.65,269.84 L819.00,268.54 L819.35,268.94 L819.70,267.87 L820.05,267.83 L820.40,270.99 L820.75,272.38 L821.10,271.60 L821.45,271.76 L821.80,273.01 L822.15,272.44 L822.50,272.27 L822.85,276.03 L823.20,275.10 L823.55,275.54 L823.90,277.23 L824.25,274.56 L824.60,275.76 L824.95,275.69 L825.30,276.93 L825.65,276.84 L826.00,279.05 L826.35,277.88 L826.70,278.90 L827.05,278.53 L827.40,278.08 L827.75,279.50 L828.10,282.06 L828.45,279.86 L828.80,278.39 L829.15,285.04 L829.50,282.45 L829.85,282.78 L830.20,280.60 L830.55,286.01 L830.90,283.64 L831.25,282.69 L831.60,288.02 L831.95,288.33 L832.30,286.07 L832.65,288.86 L833.00,289.57 L833.35,287.31" stroke="#0000f0" stroke-width="1.3" fill="none" stroke-linejoin="round"/>
<path d="M527.80,287.47 L528.15,279.47 L528.50,278.73 L528.85,282.75 L529.20,282.87 L529.55,279.07 L529.90,281.81 L530.25,273.43 L530.60,282.45 L530.95,281.26 L531.30,282.47 L531.65,279.72 L532.00,282.14 L532.35,279.59 L532.70,281.51 L533.05,283.70 L533.40,280.64 L533.75,277.92 L534.10,281.23 L534.45,280.98 L534.80,283.99 L535.15,277.89 L535.50,281.99 L535.85,280.01 L536.20,274.83 L536.55,276.91 L536.90,282.64 L537.25,282.94 L537.60,278.27 L537.95,277.97 L538.30,278.82 L538.65,273.55 L539.00,282.64 L539.35,283.91 L539.70,274.99 L540.05,276.68 L540.40,279.64 L540.75,280.92 L541.10,275.53 L541.45,282.18 L541.80,278.56 L542.15,276.77 L542.50,277.21 L542.85,277.42 L543.20,276.69 L543.55,277.46 L543.90,282.74 L544.25,280.83 L544.60,273.86 L544.95,278.17 L545.30,279.06 L545.65,279.05 L546.00,278.38 L546.35,273.04 L546.70,277.64 L547.05,275.09 L547.40,284.25 L547.75,279.87 L548.10,280.47 L548.45,276.25 L548.80,282.71 L549.15,273.88 L549.50,275.53 L549.85,279.30 L550.20,277.51 L550.55,281.72 L550.90,274.29 L551.25,281.43 L551.60,276.62 L551.95,281.87 L552.30,276.72 L552.65,278.26 L553.00,274.58 L553.35,277.82 L553.70,278.40 L554.05,276.59 L554.40,273.57 L554.75,278.92 L555.10,281.47 L555.45,282.48 L555.80,280.82 L556.15,278.54 L556.50,275.89 L556.85,284.30 L557.20,277.76 L557.55,282.65 L557.90,274.31 L558.25,275.46 L558.60,286.61 L558.95,279.14 L559.30,284.57 L559.65,277.64 L560.00,278.62 L560.35,274.83 L560.70,278.93 L561.05,277.11 L561.40,278.30 L561.75,284.15 L562.10,279.92 L562.45,280.61 L562.80,280.31 L563.15,279.47 L563.50,278.29 L563.85,282.99 L564.20,275.23 L564.55,279.29 L564.90,278.53 L565.25,279.47 L565.60,278.69 L565.95,274.52 L566.30,277.06 L566.65,279.21 L567.00,279.90 L567.35,281.78 L567.70,277.62 L568.05,279.48 L568.40,282.48 L568.75,278.00 L569.10,282.15 L569.45,281.04 L569.80,282.09 L570.15,279.78 L570.50,279.71 L570.85,274.32 L571.20,283.75 L571.55,279.79 L571.90,278.88 L572.25,290.09 L572.60,281.68 L572.95,280.35 L573.30,283.18 L573.65,281.86 L574.00,279.57 L574.35,286.27 L574.70,283.50 L575.05,284.10 L575.40,281.15 L575.75,283.45 L576.10,283.35 L576.45,281.95 L576.80,281.42 L577.15,284.79 L577.50,283.28 L577.85,288.86 L578.20,279.44 L578.55,278.22 L578.90,281.91 L579.25,280.08 L579.60,285.03 L579.95,280.49 L580.30,286.29 L580.65,283.02 L581.00,287.02 L581.35,285.13 L581.70,283.59 L582.05,285.46 L582.40,285.54 L582.75,279.10 L583.10,287.67 L583.45,280.69 L583.80,287.29 L584.15,285.49 L584.50,285.46 L584.85,281.47 L585.20,286.14 L585.55,287.17 L585.90,278.67 L586.25,286.26 L586.60,288.71 L586.95,287.37 L587.30,283.48 L587.65,284.38 L588.00,283.98 L588.35,289.87 L588.70,280.56 L589.05,289.05 L589.40,290.44 L589.75,290.33 L590.10,284.33 L590.45,290.01 L590.80,285.91 L591.15,285.74 L591.50,280.22 L591.85,286.78 L592.20,283.96 L592.55,281.71 L592.90,286.40 L593.25,283.60 L593.60,288.11 L593.95,287.88 L594.30,286.56 L594.65,281.06 L595.00,288.11 L595.35,285.95 L595.70,280.72 L596.05,279.72 L596.40,281.77 L596.75,283.95 L597.10,285.38 L597.45,281.88 L597.80,282.44 L598.15,283.99 L598.50,281.33 L598.85,280.84 L599.20,281.15 L599.55,285.48 L599.90,283.95 L600.25,285.72 L600.60,285.41 L600.95,283.86 L601.30,285.30 L601.65,284.21 L602.00,279.89 L602.35,283.23 L602.70,281.24 L603.05,286.78 L603.40,279.36 L603.75,277.74 L604.10,279.55 L604.45,281.26 L604.80,278.51 L605.15,280.15 L605.50,280.21 L605.85,280.22 L606.20,279.13 L606.55,280.07 L606.90,276.36 L607.25,276.28 L607.60,278.82 L607.95,276.09 L608.30,274.52 L608.65,272.12 L609.00,271.96 L609.35,270.78 L609.70,267.22 L610.05,269.84 L610.40,270.95 L610.75,265.95 L611.10,269.97 L611.45,267.94 L611.80,266.33 L612.15,266.57 L612.50,266.84 L612.85,261.32 L613.20,262.57 L613.55,260.97 L613.90,258.83 L614.25,263.05 L614.60,261.22 L614.95,255.49 L615.30,258.17 L615.65,254.67 L616.00,254.46 L616.35,250.35 L616.70,250.18" stroke="#0000f0" stroke-width="1.3" fill="none" stroke-linejoin="round"/>
<line x1="64.3" y1="27.9" x2="100.7" y2="27.9" stroke="#d03030" stroke-width="2.2"/>
<text x="105" y="34.0" font-size="18.2" text-anchor="start"  transform="matrix(1.03,0,0,1,-3.150,0)">iPP-1 dr: 1</text>
<text x="68.8" y="56.6" font-size="18.4" text-anchor="start"  transform="matrix(1.03,0,0,1,-2.064,0)">1200 m/min</text>
<line x1="311.8" y1="26.5" x2="348" y2="26.5" stroke="#2020e0" stroke-width="2"/>
<text x="352" y="32.9" font-size="18.2" text-anchor="start"  transform="matrix(1.03,0,0,1,-10.560,0)">iPP-2 dr: 1</text>
<text x="315.8" y="55.9" font-size="18.4" text-anchor="start"  transform="matrix(1.03,0,0,1,-9.474,0)">1200 m/min</text>
<line x1="497.3" y1="26.7" x2="533.6" y2="26.7" stroke="#e00000" stroke-width="2.2"/>
<text x="537.8" y="32.0" font-size="18.2" text-anchor="start"  transform="matrix(1.03,0,0,1,-16.134,0)">iPP-1 dr: 1</text>
<text x="501.8" y="55.8" font-size="18.4" text-anchor="start"  transform="matrix(1.03,0,0,1,-15.054,0)">2750 m/min</text>
<line x1="747.3" y1="27.2" x2="784" y2="27.2" stroke="#1010d0" stroke-width="2"/>
<text x="788" y="32.2" font-size="18.2" text-anchor="start"  transform="matrix(1.03,0,0,1,-23.640,0)">iPP-2 dr: 1</text>
<text x="752.5" y="55.8" font-size="18.4" text-anchor="start"  transform="matrix(1.03,0,0,1,-22.575,0)">2750 m/min</text>
<text x="251.9" y="371.4" font-size="25.5" text-anchor="middle"  transform="matrix(1.02,0,0,1,-5.038,0)">2θ(deg)</text>
<text x="687.0" y="373.6" font-size="25.5" text-anchor="middle"  transform="matrix(1.03,0,0,1,-20.610,0)">2θ(deg)</text>
<text transform="translate(34.9,160) rotate(-90)" font-size="25.7" text-anchor="middle">Intensity(a.u.)</text>
<text transform="translate(468.5,161.3) rotate(-90)" font-size="25.7" text-anchor="middle">Intensity(a.u.)</text>
<rect x="69.3" y="382.3" width="372.3" height="292.49999999999994" fill="none" stroke="#000" stroke-width="2"/>
<path d="M69.40,674.8 V668.3 M96.00,674.8 V671.5999999999999 M122.60,674.8 V668.3 M149.20,674.8 V671.5999999999999 M175.80,674.8 V668.3 M202.40,674.8 V671.5999999999999 M229.00,674.8 V668.3 M255.60,674.8 V671.5999999999999 M282.20,674.8 V668.3 M308.80,674.8 V671.5999999999999 M335.40,674.8 V668.3 M362.00,674.8 V671.5999999999999 M388.60,674.8 V668.3 M415.20,674.8 V671.5999999999999 M441.80,674.8 V668.3" stroke="#000" stroke-width="2" fill="none"/>
<text x="69.40" y="696" font-size="18" text-anchor="middle"  transform="matrix(1.06,0,0,1,-4.164,0)">60</text>
<text x="122.60" y="696" font-size="18" text-anchor="middle"  transform="matrix(1.06,0,0,1,-7.356,0)">80</text>
<text x="175.80" y="696" font-size="18" text-anchor="middle"  transform="matrix(1.06,0,0,1,-10.548,0)">100</text>
<text x="229.00" y="696" font-size="18" text-anchor="middle"  transform="matrix(1.06,0,0,1,-13.740,0)">120</text>
<text x="282.20" y="696" font-size="18" text-anchor="middle"  transform="matrix(1.06,0,0,1,-16.932,0)">140</text>
<text x="335.40" y="696" font-size="18" text-anchor="middle"  transform="matrix(1.06,0,0,1,-20.124,0)">160</text>
<text x="388.60" y="696" font-size="18" text-anchor="middle"  transform="matrix(1.06,0,0,1,-23.316,0)">180</text>
<text x="441.80" y="696" font-size="18" text-anchor="middle"  transform="matrix(1.06,0,0,1,-26.508,0)">200</text>
<rect x="507.8" y="381.8" width="372.7" height="292.99999999999994" fill="none" stroke="#000" stroke-width="2"/>
<path d="M507.60,674.8 V668.3 M534.20,674.8 V671.5999999999999 M560.80,674.8 V668.3 M587.40,674.8 V671.5999999999999 M614.00,674.8 V668.3 M640.60,674.8 V671.5999999999999 M667.20,674.8 V668.3 M693.80,674.8 V671.5999999999999 M720.40,674.8 V668.3 M747.00,674.8 V671.5999999999999 M773.60,674.8 V668.3 M800.20,674.8 V671.5999999999999 M826.80,674.8 V668.3 M853.40,674.8 V671.5999999999999 M880.00,674.8 V668.3" stroke="#000" stroke-width="2" fill="none"/>
<text x="507.60" y="695.8" font-size="18" text-anchor="middle"  transform="matrix(1.06,0,0,1,-30.456,0)">60</text>
<text x="560.80" y="695.8" font-size="18" text-anchor="middle"  transform="matrix(1.06,0,0,1,-33.648,0)">80</text>
<text x="614.00" y="695.8" font-size="18" text-anchor="middle"  transform="matrix(1.06,0,0,1,-36.840,0)">100</text>
<text x="667.20" y="695.8" font-size="18" text-anchor="middle"  transform="matrix(1.06,0,0,1,-40.032,0)">120</text>
<text x="720.40" y="695.8" font-size="18" text-anchor="middle"  transform="matrix(1.06,0,0,1,-43.224,0)">140</text>
<text x="773.60" y="695.8" font-size="18" text-anchor="middle"  transform="matrix(1.06,0,0,1,-46.416,0)">160</text>
<text x="826.80" y="695.8" font-size="18" text-anchor="middle"  transform="matrix(1.06,0,0,1,-49.608,0)">180</text>
<text x="880.00" y="695.8" font-size="18" text-anchor="middle"  transform="matrix(1.06,0,0,1,-52.800,0)">200</text>
<path d="M69.30,505.00 L70.30,505.08 L71.30,505.16 L72.30,505.24 L73.30,505.31 L74.30,505.39 L75.30,505.47 L76.30,505.55 L77.30,505.62 L78.30,505.70 L79.30,505.77 L80.30,505.85 L81.30,505.92 L82.30,506.00 L83.30,506.07 L84.30,506.15 L85.30,506.22 L86.30,506.29 L87.30,506.36 L88.30,506.43 L89.30,506.51 L90.30,506.58 L91.30,506.65 L92.30,506.72 L93.30,506.78 L94.30,506.85 L95.30,506.92 L96.30,506.99 L97.30,507.05 L98.30,507.12 L99.30,507.18 L100.30,507.25 L101.30,507.31 L102.30,507.37 L103.30,507.44 L104.30,507.50 L105.30,507.56 L106.30,507.62 L107.30,507.68 L108.30,507.74 L109.30,507.79 L110.30,507.85 L111.30,507.91 L112.30,507.97 L113.30,508.02 L114.30,508.08 L115.30,508.13 L116.30,508.19 L117.30,508.25 L118.30,508.30 L119.30,508.36 L120.30,508.41 L121.30,508.46 L122.30,508.52 L123.30,508.57 L124.30,508.63 L125.30,508.68 L126.30,508.73 L127.30,508.78 L128.30,508.84 L129.30,508.89 L130.30,508.94 L131.30,508.99 L132.30,509.04 L133.30,509.09 L134.30,509.14 L135.30,509.19 L136.30,509.24 L137.30,509.29 L138.30,509.34 L139.30,509.38 L140.30,509.43 L141.30,509.48 L142.30,509.52 L143.30,509.57 L144.30,509.62 L145.30,509.66 L146.30,509.71 L147.30,509.75 L148.30,509.79 L149.30,509.84 L150.30,509.88 L151.30,509.92 L152.30,509.96 L153.30,510.00 L154.30,510.05 L155.30,510.09 L156.30,510.12 L157.30,510.16 L158.30,510.20 L159.30,510.24 L160.30,510.28 L161.30,510.31 L162.30,510.35 L163.30,510.39 L164.30,510.42 L165.30,510.46 L166.30,510.49 L167.30,510.52 L168.30,510.56 L169.30,510.59 L170.30,510.62 L171.30,510.66 L172.30,510.69 L173.30,510.72 L174.30,510.75 L175.30,510.79 L176.30,510.82 L177.30,510.85 L178.30,510.88 L179.30,510.91 L180.30,510.94 L181.30,510.97 L182.30,511.00 L183.30,511.03 L184.30,511.06 L185.30,511.09 L186.30,511.11 L187.30,511.14 L188.30,511.17 L189.30,511.20 L190.30,511.23 L191.30,511.25 L192.30,511.28 L193.30,511.31 L194.30,511.33 L195.30,511.36 L196.30,511.39 L197.30,511.41 L198.30,511.44 L199.30,511.46 L200.30,511.49 L201.30,511.51 L202.30,511.54 L203.30,511.56 L204.30,511.59 L205.30,511.61 L206.30,511.63 L207.30,511.66 L208.30,511.68 L209.30,511.71 L210.30,511.73 L211.30,511.75 L212.30,511.77 L213.30,511.80 L214.30,511.82 L215.30,511.84 L216.30,511.86 L217.30,511.88 L218.30,511.91 L219.30,511.93 L220.30,511.95 L221.30,511.98 L222.30,512.00 L223.30,512.03 L224.30,512.05 L225.30,512.08 L226.30,512.10 L227.30,512.12 L228.30,512.14 L229.30,512.16 L230.30,512.17 L231.30,512.19 L232.30,512.19 L233.30,512.20 L234.30,512.20 L235.30,512.19 L236.30,512.17 L237.30,512.15 L238.30,512.12 L239.30,512.07 L240.30,512.03 L241.30,511.97 L242.30,511.92 L243.30,511.85 L244.30,511.79 L245.30,511.72 L246.30,511.65 L247.30,511.58 L248.30,511.48 L249.30,511.37 L250.30,511.24 L251.30,511.09 L252.30,510.93 L253.30,510.76 L254.30,510.59 L255.30,510.42 L256.30,510.25 L257.30,510.08 L258.30,509.90 L259.30,509.72 L260.30,509.53 L261.30,509.34 L262.30,509.14 L263.30,508.94 L264.30,508.73 L265.30,508.51 L266.30,508.29 L267.30,508.06 L268.30,507.84 L269.30,507.60 L270.30,507.37 L271.30,507.13 L272.30,506.88 L273.30,506.62 L274.30,506.36 L275.30,506.08 L276.30,505.79 L277.30,505.49 L278.30,505.17 L279.30,504.84 L280.30,504.49 L281.30,504.11 L282.30,503.70 L283.30,503.26 L284.30,502.79 L285.30,502.29 L286.30,501.76 L287.30,501.21 L288.30,500.62 L289.30,499.99 L290.30,499.31 L291.30,498.58 L292.30,497.79 L293.30,496.93 L294.30,496.02 L295.30,495.06 L296.30,493.96 L297.30,492.58 L298.30,490.62 L299.30,487.75 L300.30,484.60 L301.30,481.31 L302.30,477.68 L303.30,474.86 L304.30,473.28 L305.30,471.94 L306.30,470.82 L307.30,469.90 L308.30,469.19 L309.30,468.70 L310.30,468.33 L311.30,467.99 L312.30,467.73 L313.30,467.55 L314.30,467.50 L315.30,467.59 L316.30,467.82 L317.30,468.14 L318.30,468.54 L319.30,468.97 L320.30,469.41 L321.30,469.83 L322.30,470.32 L323.30,470.90 L324.30,471.52 L325.30,472.16 L326.30,472.79 L327.30,473.36 L328.30,473.86 L329.30,474.24 L330.30,474.54 L331.30,474.79 L332.30,475.02 L333.30,475.25 L334.30,475.52 L335.30,475.84 L336.30,476.26 L337.30,476.79 L338.30,477.43 L339.30,478.20 L340.30,479.10 L341.30,480.27 L342.30,481.98 L343.30,484.07 L344.30,486.36 L345.30,488.67 L346.30,490.81 L347.30,492.77 L348.30,494.77 L349.30,496.76 L350.30,498.65 L351.30,500.39 L352.30,501.90 L353.30,503.25 L354.30,504.55 L355.30,505.75 L356.30,506.81 L357.30,507.69 L358.30,508.36 L359.30,508.90 L360.30,509.41 L361.30,509.86 L362.30,510.27 L363.30,510.61 L364.30,510.89 L365.30,511.10 L366.30,511.23 L367.30,511.34 L368.30,511.44 L369.30,511.52 L370.30,511.61 L371.30,511.68 L372.30,511.75 L373.30,511.81 L374.30,511.87 L375.30,511.92 L376.30,511.97 L377.30,512.02 L378.30,512.06 L379.30,512.10 L380.30,512.14 L381.30,512.17 L382.30,512.21 L383.30,512.25 L384.30,512.28 L385.30,512.32 L386.30,512.36 L387.30,512.40 L388.30,512.43 L389.30,512.46 L390.30,512.49 L391.30,512.52 L392.30,512.55 L393.30,512.58 L394.30,512.61 L395.30,512.64 L396.30,512.67 L397.30,512.69 L398.30,512.72 L399.30,512.74 L400.30,512.77 L401.30,512.79 L402.30,512.81 L403.30,512.84 L404.30,512.86 L405.30,512.88 L406.30,512.91 L407.30,512.93 L408.30,512.95 L409.30,512.98 L410.30,513.00 L411.30,513.02 L412.30,513.05 L413.30,513.07 L414.30,513.10 L415.30,513.13 L416.30,513.15 L417.30,513.18 L418.30,513.21 L419.30,513.24 L420.30,513.27 L421.30,513.29 L422.30,513.32 L423.30,513.35 L424.30,513.38 L425.30,513.41 L426.30,513.44 L427.30,513.47 L428.30,513.50 L429.30,513.53 L430.30,513.56 L431.30,513.59 L432.30,513.62 L433.30,513.65 L434.30,513.68 L435.30,513.71 L436.30,513.74 L437.30,513.77 L438.30,513.80 L439.30,513.83 L440.30,513.87 L441.30,513.90" stroke="#bc1420" stroke-width="1.45" fill="none" stroke-linejoin="round"/>
<path d="M69.30,584.50 L70.30,584.58 L71.30,584.67 L72.30,584.75 L73.30,584.83 L74.30,584.91 L75.30,584.99 L76.30,585.07 L77.30,585.15 L78.30,585.23 L79.30,585.31 L80.30,585.38 L81.30,585.46 L82.30,585.53 L83.30,585.60 L84.30,585.67 L85.30,585.74 L86.30,585.81 L87.30,585.88 L88.30,585.94 L89.30,586.01 L90.30,586.07 L91.30,586.13 L92.30,586.19 L93.30,586.24 L94.30,586.29 L95.30,586.35 L96.30,586.40 L97.30,586.44 L98.30,586.49 L99.30,586.53 L100.30,586.57 L101.30,586.62 L102.30,586.66 L103.30,586.70 L104.30,586.75 L105.30,586.79 L106.30,586.83 L107.30,586.87 L108.30,586.92 L109.30,586.96 L110.30,587.00 L111.30,587.04 L112.30,587.08 L113.30,587.12 L114.30,587.16 L115.30,587.20 L116.30,587.24 L117.30,587.27 L118.30,587.31 L119.30,587.35 L120.30,587.38 L121.30,587.42 L122.30,587.45 L123.30,587.48 L124.30,587.51 L125.30,587.54 L126.30,587.57 L127.30,587.59 L128.30,587.62 L129.30,587.64 L130.30,587.67 L131.30,587.69 L132.30,587.71 L133.30,587.72 L134.30,587.74 L135.30,587.75 L136.30,587.77 L137.30,587.78 L138.30,587.79 L139.30,587.79 L140.30,587.80 L141.30,587.80 L142.30,587.80 L143.30,587.80 L144.30,587.80 L145.30,587.80 L146.30,587.80 L147.30,587.80 L148.30,587.80 L149.30,587.80 L150.30,587.80 L151.30,587.80 L152.30,587.80 L153.30,587.80 L154.30,587.80 L155.30,587.80 L156.30,587.80 L157.30,587.80 L158.30,587.80 L159.30,587.80 L160.30,587.80 L161.30,587.80 L162.30,587.80 L163.30,587.80 L164.30,587.80 L165.30,587.80 L166.30,587.80 L167.30,587.80 L168.30,587.80 L169.30,587.80 L170.30,587.80 L171.30,587.80 L172.30,587.80 L173.30,587.80 L174.30,587.80 L175.30,587.80 L176.30,587.79 L177.30,587.77 L178.30,587.75 L179.30,587.71 L180.30,587.68 L181.30,587.63 L182.30,587.59 L183.30,587.54 L184.30,587.48 L185.30,587.42 L186.30,587.36 L187.30,587.30 L188.30,587.24 L189.30,587.17 L190.30,587.11 L191.30,587.04 L192.30,586.98 L193.30,586.91 L194.30,586.83 L195.30,586.74 L196.30,586.65 L197.30,586.56 L198.30,586.46 L199.30,586.37 L200.30,586.27 L201.30,586.16 L202.30,586.03 L203.30,585.90 L204.30,585.78 L205.30,585.69 L206.30,585.62 L207.30,585.60 L208.30,585.63 L209.30,585.70 L210.30,585.79 L211.30,585.89 L212.30,585.99 L213.30,586.06 L214.30,586.11 L215.30,586.15 L216.30,586.18 L217.30,586.22 L218.30,586.25 L219.30,586.27 L220.30,586.29 L221.30,586.30 L222.30,586.30 L223.30,586.30 L224.30,586.30 L225.30,586.30 L226.30,586.29 L227.30,586.29 L228.30,586.29 L229.30,586.28 L230.30,586.27 L231.30,586.27 L232.30,586.26 L233.30,586.26 L234.30,586.25 L235.30,586.24 L236.30,586.23 L237.30,586.22 L238.30,586.22 L239.30,586.21 L240.30,586.20 L241.30,586.19 L242.30,586.17 L243.30,586.15 L244.30,586.13 L245.30,586.11 L246.30,586.09 L247.30,586.06 L248.30,586.03 L249.30,586.00 L250.30,585.97 L251.30,585.94 L252.30,585.90 L253.30,585.87 L254.30,585.83 L255.30,585.79 L256.30,585.75 L257.30,585.71 L258.30,585.67 L259.30,585.63 L260.30,585.59 L261.30,585.54 L262.30,585.50 L263.30,585.46 L264.30,585.41 L265.30,585.36 L266.30,585.32 L267.30,585.27 L268.30,585.21 L269.30,585.16 L270.30,585.10 L271.30,585.04 L272.30,584.98 L273.30,584.92 L274.30,584.85 L275.30,584.78 L276.30,584.71 L277.30,584.64 L278.30,584.56 L279.30,584.48 L280.30,584.39 L281.30,584.31 L282.30,584.21 L283.30,584.12 L284.30,584.02 L285.30,583.91 L286.30,583.80 L287.30,583.67 L288.30,583.52 L289.30,583.37 L290.30,583.21 L291.30,583.04 L292.30,582.85 L293.30,582.66 L294.30,582.46 L295.30,582.25 L296.30,582.03 L297.30,581.81 L298.30,581.58 L299.30,581.34 L300.30,581.10 L301.30,580.85 L302.30,580.60 L303.30,580.34 L304.30,580.06 L305.30,579.77 L306.30,579.47 L307.30,579.15 L308.30,578.81 L309.30,578.45 L310.30,578.07 L311.30,577.68 L312.30,577.27 L313.30,576.83 L314.30,576.38 L315.30,575.90 L316.30,575.39 L317.30,574.85 L318.30,574.27 L319.30,573.65 L320.30,572.98 L321.30,572.26 L322.30,571.49 L323.30,570.67 L324.30,569.78 L325.30,568.84 L326.30,567.83 L327.30,566.73 L328.30,565.38 L329.30,563.82 L330.30,562.08 L331.30,560.23 L332.30,558.31 L333.30,556.37 L334.30,554.46 L335.30,552.50 L336.30,550.22 L337.30,547.86 L338.30,545.66 L339.30,543.86 L340.30,542.72 L341.30,541.93 L342.30,541.31 L343.30,541.01 L344.30,541.03 L345.30,541.12 L346.30,541.25 L347.30,541.38 L348.30,541.47 L349.30,541.49 L350.30,541.23 L351.30,540.83 L352.30,540.60 L353.30,540.80 L354.30,541.27 L355.30,541.66 L356.30,541.50 L357.30,540.66 L358.30,539.91 L359.30,539.23 L360.30,538.65 L361.30,538.40 L362.30,538.53 L363.30,538.87 L364.30,539.37 L365.30,539.98 L366.30,540.63 L367.30,541.28 L368.30,541.87 L369.30,542.40 L370.30,542.96 L371.30,543.64 L372.30,544.50 L373.30,545.91 L374.30,548.10 L375.30,550.80 L376.30,553.73 L377.30,556.59 L378.30,559.14 L379.30,561.70 L380.30,564.34 L381.30,566.89 L382.30,569.23 L383.30,571.20 L384.30,572.79 L385.30,574.28 L386.30,575.67 L387.30,576.95 L388.30,578.10 L389.30,579.10 L390.30,579.94 L391.30,580.60 L392.30,581.15 L393.30,581.67 L394.30,582.16 L395.30,582.62 L396.30,583.04 L397.30,583.41 L398.30,583.75 L399.30,584.03 L400.30,584.27 L401.30,584.45 L402.30,584.58 L403.30,584.67 L404.30,584.74 L405.30,584.81 L406.30,584.88 L407.30,584.93 L408.30,584.99 L409.30,585.03 L410.30,585.08 L411.30,585.12 L412.30,585.16 L413.30,585.19 L414.30,585.23 L415.30,585.26 L416.30,585.29 L417.30,585.32 L418.30,585.35 L419.30,585.38 L420.30,585.42 L421.30,585.45 L422.30,585.49 L423.30,585.53 L424.30,585.57 L425.30,585.61 L426.30,585.65 L427.30,585.69 L428.30,585.73 L429.30,585.77 L430.30,585.81 L431.30,585.84 L432.30,585.88 L433.30,585.92 L434.30,585.95 L435.30,585.99 L436.30,586.03 L437.30,586.06 L438.30,586.10 L439.30,586.13 L440.30,586.16 L441.30,586.20" stroke="#1e18c4" stroke-width="1.55" fill="none" stroke-linejoin="round"/>
<path d="M508.30,507.40 L509.30,507.49 L510.30,507.58 L511.30,507.68 L512.30,507.77 L513.30,507.86 L514.30,507.95 L515.30,508.04 L516.30,508.12 L517.30,508.21 L518.30,508.30 L519.30,508.39 L520.30,508.47 L521.30,508.56 L522.30,508.64 L523.30,508.72 L524.30,508.81 L525.30,508.89 L526.30,508.97 L527.30,509.05 L528.30,509.13 L529.30,509.21 L530.30,509.28 L531.30,509.36 L532.30,509.44 L533.30,509.51 L534.30,509.58 L535.30,509.66 L536.30,509.73 L537.30,509.80 L538.30,509.87 L539.30,509.93 L540.30,510.00 L541.30,510.07 L542.30,510.13 L543.30,510.19 L544.30,510.26 L545.30,510.32 L546.30,510.38 L547.30,510.44 L548.30,510.50 L549.30,510.56 L550.30,510.62 L551.30,510.67 L552.30,510.73 L553.30,510.79 L554.30,510.84 L555.30,510.90 L556.30,510.95 L557.30,511.01 L558.30,511.06 L559.30,511.11 L560.30,511.17 L561.30,511.22 L562.30,511.27 L563.30,511.32 L564.30,511.37 L565.30,511.42 L566.30,511.47 L567.30,511.52 L568.30,511.57 L569.30,511.62 L570.30,511.67 L571.30,511.71 L572.30,511.76 L573.30,511.81 L574.30,511.85 L575.30,511.90 L576.30,511.94 L577.30,511.99 L578.30,512.03 L579.30,512.08 L580.30,512.12 L581.30,512.16 L582.30,512.21 L583.30,512.25 L584.30,512.29 L585.30,512.33 L586.30,512.38 L587.30,512.42 L588.30,512.46 L589.30,512.50 L590.30,512.54 L591.30,512.58 L592.30,512.62 L593.30,512.66 L594.30,512.70 L595.30,512.74 L596.30,512.78 L597.30,512.82 L598.30,512.86 L599.30,512.90 L600.30,512.94 L601.30,512.97 L602.30,513.01 L603.30,513.05 L604.30,513.09 L605.30,513.12 L606.30,513.16 L607.30,513.20 L608.30,513.23 L609.30,513.27 L610.30,513.30 L611.30,513.34 L612.30,513.37 L613.30,513.41 L614.30,513.44 L615.30,513.47 L616.30,513.51 L617.30,513.54 L618.30,513.57 L619.30,513.60 L620.30,513.63 L621.30,513.66 L622.30,513.69 L623.30,513.72 L624.30,513.75 L625.30,513.77 L626.30,513.80 L627.30,513.83 L628.30,513.85 L629.30,513.88 L630.30,513.90 L631.30,513.92 L632.30,513.95 L633.30,513.97 L634.30,514.00 L635.30,514.02 L636.30,514.05 L637.30,514.07 L638.30,514.10 L639.30,514.12 L640.30,514.15 L641.30,514.17 L642.30,514.20 L643.30,514.22 L644.30,514.24 L645.30,514.27 L646.30,514.29 L647.30,514.31 L648.30,514.33 L649.30,514.35 L650.30,514.37 L651.30,514.39 L652.30,514.41 L653.30,514.42 L654.30,514.44 L655.30,514.45 L656.30,514.46 L657.30,514.47 L658.30,514.48 L659.30,514.49 L660.30,514.49 L661.30,514.50 L662.30,514.50 L663.30,514.50 L664.30,514.50 L665.30,514.49 L666.30,514.47 L667.30,514.46 L668.30,514.44 L669.30,514.41 L670.30,514.39 L671.30,514.36 L672.30,514.33 L673.30,514.30 L674.30,514.27 L675.30,514.24 L676.30,514.21 L677.30,514.18 L678.30,514.15 L679.30,514.12 L680.30,514.09 L681.30,514.07 L682.30,514.04 L683.30,514.02 L684.30,513.99 L685.30,513.97 L686.30,513.94 L687.30,513.92 L688.30,513.89 L689.30,513.87 L690.30,513.84 L691.30,513.81 L692.30,513.78 L693.30,513.75 L694.30,513.72 L695.30,513.69 L696.30,513.65 L697.30,513.62 L698.30,513.58 L699.30,513.54 L700.30,513.49 L701.30,513.45 L702.30,513.40 L703.30,513.35 L704.30,513.28 L705.30,513.21 L706.30,513.13 L707.30,513.05 L708.30,512.96 L709.30,512.86 L710.30,512.75 L711.30,512.64 L712.30,512.52 L713.30,512.39 L714.30,512.26 L715.30,512.12 L716.30,511.98 L717.30,511.83 L718.30,511.67 L719.30,511.51 L720.30,511.34 L721.30,511.17 L722.30,511.00 L723.30,510.82 L724.30,510.64 L725.30,510.44 L726.30,510.20 L727.30,509.93 L728.30,509.63 L729.30,509.32 L730.30,509.00 L731.30,508.67 L732.30,508.31 L733.30,507.92 L734.30,507.51 L735.30,507.07 L736.30,506.62 L737.30,506.14 L738.30,505.59 L739.30,504.95 L740.30,504.15 L741.30,503.06 L742.30,501.70 L743.30,500.14 L744.30,498.46 L745.30,496.72 L746.30,494.75 L747.30,492.51 L748.30,490.19 L749.30,487.99 L750.30,486.03 L751.30,484.03 L752.30,482.12 L753.30,480.51 L754.30,479.40 L755.30,478.66 L756.30,478.01 L757.30,477.46 L758.30,477.01 L759.30,476.66 L760.30,476.42 L761.30,476.24 L762.30,476.09 L763.30,475.94 L764.30,475.82 L765.30,475.72 L766.30,475.65 L767.30,475.61 L768.30,475.61 L769.30,475.74 L770.30,476.02 L771.30,476.41 L772.30,476.89 L773.30,477.43 L774.30,478.01 L775.30,478.62 L776.30,479.41 L777.30,480.39 L778.30,481.52 L779.30,482.78 L780.30,484.14 L781.30,485.87 L782.30,487.96 L783.30,490.19 L784.30,492.32 L785.30,494.21 L786.30,496.04 L787.30,497.82 L788.30,499.53 L789.30,501.14 L790.30,502.64 L791.30,504.09 L792.30,505.50 L793.30,506.81 L794.30,508.00 L795.30,509.01 L796.30,509.88 L797.30,510.69 L798.30,511.39 L799.30,511.98 L800.30,512.42 L801.30,512.78 L802.30,513.09 L803.30,513.34 L804.30,513.55 L805.30,513.71 L806.30,513.87 L807.30,514.02 L808.30,514.16 L809.30,514.30 L810.30,514.43 L811.30,514.55 L812.30,514.67 L813.30,514.78 L814.30,514.88 L815.30,514.98 L816.30,515.07 L817.30,515.16 L818.30,515.24 L819.30,515.31 L820.30,515.38 L821.30,515.44 L822.30,515.49 L823.30,515.54 L824.30,515.58 L825.30,515.62 L826.30,515.66 L827.30,515.69 L828.30,515.73 L829.30,515.76 L830.30,515.80 L831.30,515.83 L832.30,515.86 L833.30,515.89 L834.30,515.91 L835.30,515.94 L836.30,515.97 L837.30,515.99 L838.30,516.01 L839.30,516.03 L840.30,516.04 L841.30,516.06 L842.30,516.07 L843.30,516.08 L844.30,516.09 L845.30,516.10 L846.30,516.10 L847.30,516.10 L848.30,516.10 L849.30,516.09 L850.30,516.08 L851.30,516.07 L852.30,516.05 L853.30,516.03 L854.30,516.01 L855.30,515.98 L856.30,515.95 L857.30,515.92 L858.30,515.88 L859.30,515.84 L860.30,515.80 L861.30,515.76 L862.30,515.71 L863.30,515.66 L864.30,515.61 L865.30,515.55 L866.30,515.49 L867.30,515.43 L868.30,515.36 L869.30,515.30 L870.30,515.23 L871.30,515.16 L872.30,515.08 L873.30,515.00 L874.30,514.92 L875.30,514.84 L876.30,514.76 L877.30,514.67 L878.30,514.58" stroke="#bc1420" stroke-width="1.45" fill="none" stroke-linejoin="round"/>
<path d="M508.30,591.70 L509.30,591.74 L510.30,591.78 L511.30,591.82 L512.30,591.86 L513.30,591.90 L514.30,591.94 L515.30,591.98 L516.30,592.02 L517.30,592.06 L518.30,592.10 L519.30,592.14 L520.30,592.19 L521.30,592.23 L522.30,592.27 L523.30,592.31 L524.30,592.35 L525.30,592.40 L526.30,592.44 L527.30,592.48 L528.30,592.52 L529.30,592.57 L530.30,592.61 L531.30,592.66 L532.30,592.70 L533.30,592.74 L534.30,592.79 L535.30,592.83 L536.30,592.88 L537.30,592.92 L538.30,592.97 L539.30,593.01 L540.30,593.06 L541.30,593.10 L542.30,593.15 L543.30,593.20 L544.30,593.24 L545.30,593.29 L546.30,593.34 L547.30,593.39 L548.30,593.44 L549.30,593.50 L550.30,593.55 L551.30,593.61 L552.30,593.66 L553.30,593.72 L554.30,593.78 L555.30,593.84 L556.30,593.89 L557.30,593.95 L558.30,594.01 L559.30,594.07 L560.30,594.13 L561.30,594.19 L562.30,594.25 L563.30,594.31 L564.30,594.37 L565.30,594.43 L566.30,594.48 L567.30,594.54 L568.30,594.60 L569.30,594.65 L570.30,594.71 L571.30,594.76 L572.30,594.82 L573.30,594.87 L574.30,594.92 L575.30,594.97 L576.30,595.01 L577.30,595.06 L578.30,595.10 L579.30,595.15 L580.30,595.19 L581.30,595.23 L582.30,595.26 L583.30,595.30 L584.30,595.33 L585.30,595.36 L586.30,595.38 L587.30,595.41 L588.30,595.43 L589.30,595.46 L590.30,595.48 L591.30,595.51 L592.30,595.53 L593.30,595.55 L594.30,595.58 L595.30,595.60 L596.30,595.63 L597.30,595.65 L598.30,595.67 L599.30,595.69 L600.30,595.72 L601.30,595.74 L602.30,595.76 L603.30,595.78 L604.30,595.80 L605.30,595.82 L606.30,595.84 L607.30,595.86 L608.30,595.88 L609.30,595.90 L610.30,595.91 L611.30,595.93 L612.30,595.95 L613.30,595.96 L614.30,595.98 L615.30,595.99 L616.30,596.00 L617.30,596.02 L618.30,596.03 L619.30,596.04 L620.30,596.05 L621.30,596.06 L622.30,596.07 L623.30,596.07 L624.30,596.08 L625.30,596.09 L626.30,596.09 L627.30,596.10 L628.30,596.10 L629.30,596.10 L630.30,596.10 L631.30,596.10 L632.30,596.10 L633.30,596.10 L634.30,596.10 L635.30,596.10 L636.30,596.10 L637.30,596.09 L638.30,596.09 L639.30,596.09 L640.30,596.09 L641.30,596.08 L642.30,596.08 L643.30,596.08 L644.30,596.07 L645.30,596.07 L646.30,596.07 L647.30,596.06 L648.30,596.06 L649.30,596.05 L650.30,596.05 L651.30,596.04 L652.30,596.04 L653.30,596.03 L654.30,596.03 L655.30,596.02 L656.30,596.01 L657.30,596.01 L658.30,596.00 L659.30,595.99 L660.30,595.99 L661.30,595.98 L662.30,595.97 L663.30,595.96 L664.30,595.96 L665.30,595.95 L666.30,595.94 L667.30,595.93 L668.30,595.92 L669.30,595.91 L670.30,595.90 L671.30,595.89 L672.30,595.88 L673.30,595.87 L674.30,595.86 L675.30,595.85 L676.30,595.84 L677.30,595.83 L678.30,595.82 L679.30,595.81 L680.30,595.80 L681.30,595.78 L682.30,595.76 L683.30,595.74 L684.30,595.72 L685.30,595.69 L686.30,595.66 L687.30,595.63 L688.30,595.59 L689.30,595.55 L690.30,595.51 L691.30,595.47 L692.30,595.42 L693.30,595.37 L694.30,595.32 L695.30,595.26 L696.30,595.21 L697.30,595.15 L698.30,595.09 L699.30,595.03 L700.30,594.96 L701.30,594.90 L702.30,594.83 L703.30,594.76 L704.30,594.69 L705.30,594.62 L706.30,594.55 L707.30,594.47 L708.30,594.40 L709.30,594.32 L710.30,594.24 L711.30,594.17 L712.30,594.09 L713.30,594.01 L714.30,593.93 L715.30,593.84 L716.30,593.75 L717.30,593.65 L718.30,593.55 L719.30,593.45 L720.30,593.34 L721.30,593.23 L722.30,593.11 L723.30,592.98 L724.30,592.85 L725.30,592.72 L726.30,592.58 L727.30,592.44 L728.30,592.29 L729.30,592.14 L730.30,591.99 L731.30,591.82 L732.30,591.66 L733.30,591.49 L734.30,591.31 L735.30,591.13 L736.30,590.95 L737.30,590.76 L738.30,590.56 L739.30,590.36 L740.30,590.16 L741.30,589.94 L742.30,589.71 L743.30,589.46 L744.30,589.20 L745.30,588.92 L746.30,588.63 L747.30,588.32 L748.30,588.00 L749.30,587.66 L750.30,587.30 L751.30,586.93 L752.30,586.54 L753.30,586.14 L754.30,585.72 L755.30,585.28 L756.30,584.83 L757.30,584.39 L758.30,583.93 L759.30,583.45 L760.30,582.91 L761.30,582.31 L762.30,581.62 L763.30,580.83 L764.30,579.92 L765.30,578.86 L766.30,577.47 L767.30,575.12 L768.30,572.00 L769.30,568.22 L770.30,562.17 L771.30,555.23 L772.30,549.86 L773.30,546.66 L774.30,544.05 L775.30,542.19 L776.30,541.14 L777.30,540.45 L778.30,539.92 L779.30,539.39 L780.30,538.72 L781.30,537.67 L782.30,536.40 L783.30,535.27 L784.30,534.64 L785.30,534.71 L786.30,535.16 L787.30,535.84 L788.30,536.62 L789.30,537.37 L790.30,537.95 L791.30,538.46 L792.30,539.00 L793.30,539.49 L794.30,539.87 L795.30,540.08 L796.30,540.10 L797.30,540.10 L798.30,540.10 L799.30,540.10 L800.30,540.10 L801.30,540.10 L802.30,540.10 L803.30,540.25 L804.30,540.71 L805.30,541.41 L806.30,542.25 L807.30,543.23 L808.30,544.79 L809.30,546.92 L810.30,549.45 L811.30,552.23 L812.30,555.09 L813.30,557.87 L814.30,560.66 L815.30,563.81 L816.30,567.15 L817.30,570.49 L818.30,573.63 L819.30,576.39 L820.30,578.59 L821.30,580.48 L822.30,582.28 L823.30,583.98 L824.30,585.56 L825.30,586.99 L826.30,588.25 L827.30,589.32 L828.30,590.18 L829.30,590.81 L830.30,591.33 L831.30,591.82 L832.30,592.27 L833.30,592.69 L834.30,593.06 L835.30,593.40 L836.30,593.69 L837.30,593.93 L838.30,594.14 L839.30,594.30 L840.30,594.41 L841.30,594.50 L842.30,594.58 L843.30,594.65 L844.30,594.72 L845.30,594.79 L846.30,594.85 L847.30,594.90 L848.30,594.95 L849.30,594.99 L850.30,595.04 L851.30,595.08 L852.30,595.11 L853.30,595.15 L854.30,595.18 L855.30,595.21 L856.30,595.25 L857.30,595.28 L858.30,595.31 L859.30,595.34 L860.30,595.37 L861.30,595.41 L862.30,595.44 L863.30,595.47 L864.30,595.50 L865.30,595.52 L866.30,595.55 L867.30,595.58 L868.30,595.60 L869.30,595.63 L870.30,595.65 L871.30,595.68 L872.30,595.70 L873.30,595.72 L874.30,595.73 L875.30,595.75 L876.30,595.77 L877.30,595.78 L878.30,595.79" stroke="#1e18c4" stroke-width="1.55" fill="none" stroke-linejoin="round"/>
<line x1="71.7" y1="397.2" x2="105.5" y2="397.2" stroke="#d42020" stroke-width="1.6"/>
<line x1="71.7" y1="419.5" x2="105.5" y2="419.5" stroke="#2020c8" stroke-width="1.6"/>
<text x="109.4" y="403.4" font-size="17.6" text-anchor="start" >iPP-1</text>
<text x="109.4" y="425.6" font-size="17.6" text-anchor="start" >iPP-2</text>
<text x="72.4" y="448.7" font-size="17.6" text-anchor="start" >dr:1 1200 m/min</text>
<line x1="509.8" y1="397.2" x2="543.6" y2="397.2" stroke="#d42020" stroke-width="1.6"/>
<line x1="509.8" y1="419.5" x2="543.6" y2="419.5" stroke="#2020c8" stroke-width="1.6"/>
<text x="548" y="403.4" font-size="17.6" text-anchor="start" >iPP-1</text>
<text x="548" y="425.6" font-size="17.6" text-anchor="start" >iPP-2</text>
<text x="510.9" y="448.7" font-size="17.6" text-anchor="start" >dr:1 2750 m/min</text>
<text x="255.8" y="721.6" font-size="24.6" text-anchor="middle">Temperature(<tspan font-size="14" dx="1.2" dy="-11">o</tspan><tspan dx="0.6" dy="11">C)</tspan></text>
<text x="694.3" y="721.2" font-size="24.6" text-anchor="middle">Temperature(<tspan font-size="14" dx="1.2" dy="-11">o</tspan><tspan dx="0.6" dy="11">C)</tspan></text>
<text transform="translate(47.2,620.5) rotate(-90)" font-size="24.25" text-anchor="start">Heat Flow(a.u.)</text>
<path d="M41.5,459 V436 M37.1,441 L41.5,435.8 L45.9,441" stroke="#000" stroke-width="1.1" fill="none"/>
<text transform="translate(485.6,620.9) rotate(-90)" font-size="24.25" text-anchor="start">Heat Flow(a.u.)</text>
<path d="M479.90000000000003,459 V436 M475.50000000000006,441 L479.90000000000003,435.8 L484.3,441" stroke="#000" stroke-width="1.1" fill="none"/>
</svg>
</body></html>
